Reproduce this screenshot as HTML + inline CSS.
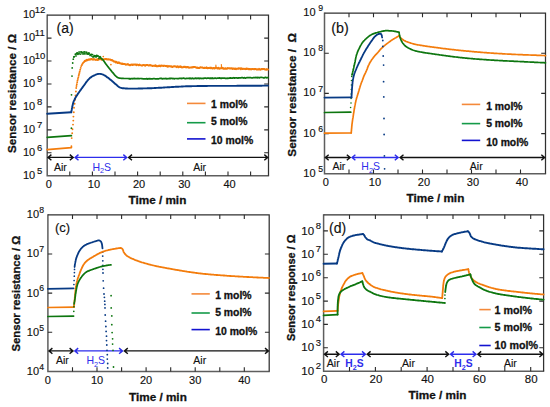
<!DOCTYPE html>
<html><head><meta charset="utf-8"><style>
html,body{margin:0;padding:0;background:#fff;}
body{width:550px;height:407px;position:relative;overflow:hidden;}
</style></head><body>
<svg width="550" height="407" viewBox="0 0 550 407" style="position:absolute;left:0;top:0">
<g font-family='"Liberation Sans", sans-serif'>
<path d="M47.20,14.50 V175.80 H269.10" fill="none" stroke="#5e5e5e" stroke-width="1.5"/>
<path d="M47.20,15.10 H268.50 V175.80" fill="none" stroke="#303030" stroke-width="1.25"/>
<path d="M47.2,152.8h4.3 M268.5,152.8h-4.3 M47.2,129.9h4.3 M268.5,129.9h-4.3 M47.2,106.9h4.3 M268.5,106.9h-4.3 M47.2,84.0h4.3 M268.5,84.0h-4.3 M47.2,61.0h4.3 M268.5,61.0h-4.3 M47.2,38.1h4.3 M268.5,38.1h-4.3 M69.8,175.8v-4.3 M69.8,15.1v4.3 M92.4,175.8v-4.3 M92.4,15.1v4.3 M115.0,175.8v-4.3 M115.0,15.1v4.3 M137.6,175.8v-4.3 M137.6,15.1v4.3 M160.2,175.8v-4.3 M160.2,15.1v4.3 M182.8,175.8v-4.3 M182.8,15.1v4.3 M205.4,175.8v-4.3 M205.4,15.1v4.3 M228.0,175.8v-4.3 M228.0,15.1v4.3 M250.6,175.8v-4.3 M250.6,15.1v4.3 " stroke="#2a2a2a" stroke-width="1.1" fill="none"/>
<text x="22.9" y="179.0" font-size="11" font-weight="normal" text-anchor="start" fill="#111" stroke="#111" stroke-width="0.15" >10</text>
<text x="37.0" y="173.6" font-size="9.5" font-weight="normal" text-anchor="start" fill="#111" stroke="#111" stroke-width="0.15" >5</text>
<text x="22.9" y="156.0" font-size="11" font-weight="normal" text-anchor="start" fill="#111" stroke="#111" stroke-width="0.15" >10</text>
<text x="37.0" y="150.6" font-size="9.5" font-weight="normal" text-anchor="start" fill="#111" stroke="#111" stroke-width="0.15" >6</text>
<text x="22.9" y="133.1" font-size="11" font-weight="normal" text-anchor="start" fill="#111" stroke="#111" stroke-width="0.15" >10</text>
<text x="37.0" y="127.7" font-size="9.5" font-weight="normal" text-anchor="start" fill="#111" stroke="#111" stroke-width="0.15" >7</text>
<text x="22.9" y="110.1" font-size="11" font-weight="normal" text-anchor="start" fill="#111" stroke="#111" stroke-width="0.15" >10</text>
<text x="37.0" y="104.7" font-size="9.5" font-weight="normal" text-anchor="start" fill="#111" stroke="#111" stroke-width="0.15" >8</text>
<text x="22.9" y="87.2" font-size="11" font-weight="normal" text-anchor="start" fill="#111" stroke="#111" stroke-width="0.15" >10</text>
<text x="37.0" y="81.8" font-size="9.5" font-weight="normal" text-anchor="start" fill="#111" stroke="#111" stroke-width="0.15" >9</text>
<text x="22.9" y="64.2" font-size="11" font-weight="normal" text-anchor="start" fill="#111" stroke="#111" stroke-width="0.15" >10</text>
<text x="34.8" y="58.8" font-size="9.5" font-weight="normal" text-anchor="start" fill="#111" stroke="#111" stroke-width="0.15" >10</text>
<text x="22.9" y="41.3" font-size="11" font-weight="normal" text-anchor="start" fill="#111" stroke="#111" stroke-width="0.15" >10</text>
<text x="34.8" y="35.9" font-size="9.5" font-weight="normal" text-anchor="start" fill="#111" stroke="#111" stroke-width="0.15" >11</text>
<text x="22.9" y="18.3" font-size="11" font-weight="normal" text-anchor="start" fill="#111" stroke="#111" stroke-width="0.15" >10</text>
<text x="34.8" y="12.9" font-size="9.5" font-weight="normal" text-anchor="start" fill="#111" stroke="#111" stroke-width="0.15" >12</text>
<text x="48.7" y="188.0" font-size="11" font-weight="normal" text-anchor="middle" fill="#111" stroke="#111" stroke-width="0.15" >0</text>
<text x="93.9" y="188.0" font-size="11" font-weight="normal" text-anchor="middle" fill="#111" stroke="#111" stroke-width="0.15" >10</text>
<text x="139.1" y="188.0" font-size="11" font-weight="normal" text-anchor="middle" fill="#111" stroke="#111" stroke-width="0.15" >20</text>
<text x="184.3" y="188.0" font-size="11" font-weight="normal" text-anchor="middle" fill="#111" stroke="#111" stroke-width="0.15" >30</text>
<text x="229.5" y="188.0" font-size="11" font-weight="normal" text-anchor="middle" fill="#111" stroke="#111" stroke-width="0.15" >40</text>
<text x="157.4" y="204.4" font-size="11.5" font-weight="bold" text-anchor="middle" fill="#111" stroke="#111" stroke-width="0.3" textLength="57.8" lengthAdjust="spacingAndGlyphs">Time / min</text>
<text x="0.0" y="0.0" font-size="11.5" font-weight="bold" text-anchor="middle" fill="#111" stroke="#111" stroke-width="0.3" transform="translate(16.2,93.5) rotate(-90)" textLength="119" lengthAdjust="spacingAndGlyphs">Sensor resistance / Ω</text>
<text x="56.5" y="32.8" font-size="14" font-weight="normal" text-anchor="start" fill="#111" stroke="#111" stroke-width="0.15" >(a)</text>
<path d="M324.50,12.40 V173.80 H546.10" fill="none" stroke="#5e5e5e" stroke-width="1.5"/>
<path d="M324.50,13.00 H545.50 V173.80" fill="none" stroke="#303030" stroke-width="1.25"/>
<path d="M324.5,133.6h4.3 M545.5,133.6h-4.3 M324.5,93.4h4.3 M545.5,93.4h-4.3 M324.5,53.2h4.3 M545.5,53.2h-4.3 M349.0,173.8v-4.3 M349.0,13.0v4.3 M373.5,173.8v-4.3 M373.5,13.0v4.3 M398.0,173.8v-4.3 M398.0,13.0v4.3 M422.5,173.8v-4.3 M422.5,13.0v4.3 M447.0,173.8v-4.3 M447.0,13.0v4.3 M471.5,173.8v-4.3 M471.5,13.0v4.3 M496.0,173.8v-4.3 M496.0,13.0v4.3 M520.5,173.8v-4.3 M520.5,13.0v4.3 " stroke="#2a2a2a" stroke-width="1.1" fill="none"/>
<text x="303.3" y="176.7" font-size="11" font-weight="normal" text-anchor="start" fill="#111" stroke="#111" stroke-width="0.15" >10</text>
<text x="318.2" y="171.9" font-size="8.7" font-weight="normal" text-anchor="start" fill="#111" stroke="#111" stroke-width="0.15" >5</text>
<text x="303.3" y="136.5" font-size="11" font-weight="normal" text-anchor="start" fill="#111" stroke="#111" stroke-width="0.15" >10</text>
<text x="318.2" y="131.7" font-size="8.7" font-weight="normal" text-anchor="start" fill="#111" stroke="#111" stroke-width="0.15" >6</text>
<text x="303.3" y="96.3" font-size="11" font-weight="normal" text-anchor="start" fill="#111" stroke="#111" stroke-width="0.15" >10</text>
<text x="318.2" y="91.5" font-size="8.7" font-weight="normal" text-anchor="start" fill="#111" stroke="#111" stroke-width="0.15" >7</text>
<text x="303.3" y="56.1" font-size="11" font-weight="normal" text-anchor="start" fill="#111" stroke="#111" stroke-width="0.15" >10</text>
<text x="318.2" y="51.3" font-size="8.7" font-weight="normal" text-anchor="start" fill="#111" stroke="#111" stroke-width="0.15" >8</text>
<text x="303.3" y="15.9" font-size="11" font-weight="normal" text-anchor="start" fill="#111" stroke="#111" stroke-width="0.15" >10</text>
<text x="318.2" y="11.1" font-size="8.7" font-weight="normal" text-anchor="start" fill="#111" stroke="#111" stroke-width="0.15" >9</text>
<text x="325.9" y="185.9" font-size="11" font-weight="normal" text-anchor="middle" fill="#111" stroke="#111" stroke-width="0.15" >0</text>
<text x="374.9" y="185.9" font-size="11" font-weight="normal" text-anchor="middle" fill="#111" stroke="#111" stroke-width="0.15" >10</text>
<text x="423.9" y="185.9" font-size="11" font-weight="normal" text-anchor="middle" fill="#111" stroke="#111" stroke-width="0.15" >20</text>
<text x="472.9" y="185.9" font-size="11" font-weight="normal" text-anchor="middle" fill="#111" stroke="#111" stroke-width="0.15" >30</text>
<text x="521.9" y="185.9" font-size="11" font-weight="normal" text-anchor="middle" fill="#111" stroke="#111" stroke-width="0.15" >40</text>
<text x="435.4" y="201.8" font-size="11.5" font-weight="bold" text-anchor="middle" fill="#111" stroke="#111" stroke-width="0.3" textLength="57.8" lengthAdjust="spacingAndGlyphs">Time / min</text>
<text x="0.0" y="0.0" font-size="11.5" font-weight="bold" text-anchor="middle" fill="#111" stroke="#111" stroke-width="0.3" transform="translate(296.0,94.9) rotate(-90)" textLength="123.5" lengthAdjust="spacingAndGlyphs">Sensor resistance /&#160;&#160;Ω</text>
<text x="331.3" y="32.6" font-size="14.3" font-weight="normal" text-anchor="start" fill="#111" stroke="#111" stroke-width="0.15" >(b)</text>
<path d="M47.90,214.20 V371.50 H269.80" fill="none" stroke="#5e5e5e" stroke-width="1.5"/>
<path d="M47.90,214.80 H269.20 V371.50" fill="none" stroke="#303030" stroke-width="1.25"/>
<path d="M47.9,332.3h4.3 M269.2,332.3h-4.3 M47.9,293.1h4.3 M269.2,293.1h-4.3 M47.9,254.0h4.3 M269.2,254.0h-4.3 M72.5,371.5v-4.3 M72.5,214.8v4.3 M97.0,371.5v-4.3 M97.0,214.8v4.3 M121.6,371.5v-4.3 M121.6,214.8v4.3 M146.1,371.5v-4.3 M146.1,214.8v4.3 M170.7,371.5v-4.3 M170.7,214.8v4.3 M195.2,371.5v-4.3 M195.2,214.8v4.3 M219.8,371.5v-4.3 M219.8,214.8v4.3 M244.3,371.5v-4.3 M244.3,214.8v4.3 " stroke="#2a2a2a" stroke-width="1.1" fill="none"/>
<text x="26.8" y="374.9" font-size="11" font-weight="normal" text-anchor="start" fill="#111" stroke="#111" stroke-width="0.15" >10</text>
<text x="39.2" y="369.8" font-size="8.7" font-weight="normal" text-anchor="start" fill="#111" stroke="#111" stroke-width="0.15" >4</text>
<text x="26.8" y="335.7" font-size="11" font-weight="normal" text-anchor="start" fill="#111" stroke="#111" stroke-width="0.15" >10</text>
<text x="39.2" y="330.6" font-size="8.7" font-weight="normal" text-anchor="start" fill="#111" stroke="#111" stroke-width="0.15" >5</text>
<text x="26.8" y="296.5" font-size="11" font-weight="normal" text-anchor="start" fill="#111" stroke="#111" stroke-width="0.15" >10</text>
<text x="39.2" y="291.4" font-size="8.7" font-weight="normal" text-anchor="start" fill="#111" stroke="#111" stroke-width="0.15" >6</text>
<text x="26.8" y="257.4" font-size="11" font-weight="normal" text-anchor="start" fill="#111" stroke="#111" stroke-width="0.15" >10</text>
<text x="39.2" y="252.3" font-size="8.7" font-weight="normal" text-anchor="start" fill="#111" stroke="#111" stroke-width="0.15" >7</text>
<text x="26.8" y="218.2" font-size="11" font-weight="normal" text-anchor="start" fill="#111" stroke="#111" stroke-width="0.15" >10</text>
<text x="39.2" y="213.1" font-size="8.7" font-weight="normal" text-anchor="start" fill="#111" stroke="#111" stroke-width="0.15" >8</text>
<text x="47.9" y="383.7" font-size="11" font-weight="normal" text-anchor="middle" fill="#111" stroke="#111" stroke-width="0.15" >0</text>
<text x="97.0" y="383.7" font-size="11" font-weight="normal" text-anchor="middle" fill="#111" stroke="#111" stroke-width="0.15" >10</text>
<text x="146.1" y="383.7" font-size="11" font-weight="normal" text-anchor="middle" fill="#111" stroke="#111" stroke-width="0.15" >20</text>
<text x="195.2" y="383.7" font-size="11" font-weight="normal" text-anchor="middle" fill="#111" stroke="#111" stroke-width="0.15" >30</text>
<text x="244.3" y="383.7" font-size="11" font-weight="normal" text-anchor="middle" fill="#111" stroke="#111" stroke-width="0.15" >40</text>
<text x="157.9" y="400.7" font-size="11.5" font-weight="bold" text-anchor="middle" fill="#111" stroke="#111" stroke-width="0.3" textLength="57.8" lengthAdjust="spacingAndGlyphs">Time / min</text>
<text x="0.0" y="0.0" font-size="11.5" font-weight="bold" text-anchor="middle" fill="#111" stroke="#111" stroke-width="0.3" transform="translate(19.5,293.6) rotate(-90)" textLength="116" lengthAdjust="spacingAndGlyphs">Sensor resistance / Ω</text>
<text x="55.0" y="231.9" font-size="13" font-weight="normal" text-anchor="start" fill="#111" stroke="#111" stroke-width="0.15" >(c)</text>
<path d="M323.60,214.20 V371.20 H544.20" fill="none" stroke="#5e5e5e" stroke-width="1.5"/>
<path d="M323.60,214.80 H543.60 V371.20" fill="none" stroke="#303030" stroke-width="1.25"/>
<path d="M323.6,347.8h4.3 M543.6,347.8h-4.3 M323.6,324.4h4.3 M543.6,324.4h-4.3 M323.6,301.1h4.3 M543.6,301.1h-4.3 M323.6,277.7h4.3 M543.6,277.7h-4.3 M323.6,254.3h4.3 M543.6,254.3h-4.3 M323.6,230.9h4.3 M543.6,230.9h-4.3 M349.5,371.2v-4.3 M349.5,214.8v4.3 M375.4,371.2v-4.3 M375.4,214.8v4.3 M401.2,371.2v-4.3 M401.2,214.8v4.3 M427.1,371.2v-4.3 M427.1,214.8v4.3 M453.0,371.2v-4.3 M453.0,214.8v4.3 M478.9,371.2v-4.3 M478.9,214.8v4.3 M504.8,371.2v-4.3 M504.8,214.8v4.3 M530.7,371.2v-4.3 M530.7,214.8v4.3 " stroke="#2a2a2a" stroke-width="1.1" fill="none"/>
<text x="301.3" y="374.8" font-size="11.5" font-weight="normal" text-anchor="start" fill="#111" stroke="#111" stroke-width="0.15" >10</text>
<text x="315.8" y="369.2" font-size="9.5" font-weight="normal" text-anchor="start" fill="#111" stroke="#111" stroke-width="0.15" >2</text>
<text x="301.3" y="351.4" font-size="11.5" font-weight="normal" text-anchor="start" fill="#111" stroke="#111" stroke-width="0.15" >10</text>
<text x="315.8" y="345.8" font-size="9.5" font-weight="normal" text-anchor="start" fill="#111" stroke="#111" stroke-width="0.15" >3</text>
<text x="301.3" y="328.0" font-size="11.5" font-weight="normal" text-anchor="start" fill="#111" stroke="#111" stroke-width="0.15" >10</text>
<text x="315.8" y="322.4" font-size="9.5" font-weight="normal" text-anchor="start" fill="#111" stroke="#111" stroke-width="0.15" >4</text>
<text x="301.3" y="304.7" font-size="11.5" font-weight="normal" text-anchor="start" fill="#111" stroke="#111" stroke-width="0.15" >10</text>
<text x="315.8" y="299.1" font-size="9.5" font-weight="normal" text-anchor="start" fill="#111" stroke="#111" stroke-width="0.15" >5</text>
<text x="301.3" y="281.3" font-size="11.5" font-weight="normal" text-anchor="start" fill="#111" stroke="#111" stroke-width="0.15" >10</text>
<text x="315.8" y="275.7" font-size="9.5" font-weight="normal" text-anchor="start" fill="#111" stroke="#111" stroke-width="0.15" >6</text>
<text x="301.3" y="257.9" font-size="11.5" font-weight="normal" text-anchor="start" fill="#111" stroke="#111" stroke-width="0.15" >10</text>
<text x="315.8" y="252.3" font-size="9.5" font-weight="normal" text-anchor="start" fill="#111" stroke="#111" stroke-width="0.15" >7</text>
<text x="301.3" y="234.5" font-size="11.5" font-weight="normal" text-anchor="start" fill="#111" stroke="#111" stroke-width="0.15" >10</text>
<text x="315.8" y="228.9" font-size="9.5" font-weight="normal" text-anchor="start" fill="#111" stroke="#111" stroke-width="0.15" >8</text>
<text x="324.1" y="383.3" font-size="11.5" font-weight="normal" text-anchor="middle" fill="#111" stroke="#111" stroke-width="0.15" >0</text>
<text x="375.9" y="383.3" font-size="11.5" font-weight="normal" text-anchor="middle" fill="#111" stroke="#111" stroke-width="0.15" >20</text>
<text x="427.6" y="383.3" font-size="11.5" font-weight="normal" text-anchor="middle" fill="#111" stroke="#111" stroke-width="0.15" >40</text>
<text x="479.4" y="383.3" font-size="11.5" font-weight="normal" text-anchor="middle" fill="#111" stroke="#111" stroke-width="0.15" >60</text>
<text x="531.2" y="383.3" font-size="11.5" font-weight="normal" text-anchor="middle" fill="#111" stroke="#111" stroke-width="0.15" >80</text>
<text x="437.5" y="398.8" font-size="11.5" font-weight="bold" text-anchor="middle" fill="#111" stroke="#111" stroke-width="0.3" textLength="57.8" lengthAdjust="spacingAndGlyphs">Time / min</text>
<text x="0.0" y="0.0" font-size="11.5" font-weight="bold" text-anchor="middle" fill="#111" stroke="#111" stroke-width="0.3" transform="translate(294.6,287.8) rotate(-90)" textLength="106.5" lengthAdjust="spacingAndGlyphs">Sensor response / Ω</text>
<text x="329.0" y="232.8" font-size="14" font-weight="normal" text-anchor="start" fill="#111" stroke="#111" stroke-width="0.15" >(d)</text>
<path d="M48.0,157.4 H73.2 M51.4,154.6 L48.0,157.4 L51.4,160.2 M69.8,154.6 L73.2,157.4 L69.8,160.2" stroke="#111" stroke-width="1.4" fill="none"/>
<path d="M75.1,157.4 H126.7 M78.5,154.6 L75.1,157.4 L78.5,160.2 M123.3,154.6 L126.7,157.4 L123.3,160.2" stroke="#2D2DEB" stroke-width="1.4" fill="none"/>
<path d="M128.6,157.4 H267.7 M132.0,154.6 L128.6,157.4 L132.0,160.2 M264.3,154.6 L267.7,157.4 L264.3,160.2" stroke="#111" stroke-width="1.4" fill="none"/>
<text x="54.0" y="170.6" font-size="10.5" font-weight="normal" text-anchor="start" fill="#111" stroke="#111" stroke-width="0.15" >Air</text>
<text x="92.4" y="170.6" font-size="10.5" font-weight="normal" fill="#2D2DEB">H<tspan font-size="7.3" dy="2.5">2</tspan><tspan dy="-2.5">S</tspan></text>
<text x="193.2" y="170.6" font-size="10.5" font-weight="normal" text-anchor="start" fill="#111" stroke="#111" stroke-width="0.15" >Air</text>
<path d="M325.3,157.5 H350.2 M328.7,154.7 L325.3,157.5 L328.7,160.3 M346.8,154.7 L350.2,157.5 L346.8,160.3" stroke="#111" stroke-width="1.4" fill="none"/>
<path d="M352.0,157.5 H398.2 M355.4,154.7 L352.0,157.5 L355.4,160.3 M394.8,154.7 L398.2,157.5 L394.8,160.3" stroke="#2D2DEB" stroke-width="1.4" fill="none"/>
<path d="M400.1,157.5 H544.7 M403.5,154.7 L400.1,157.5 L403.5,160.3 M541.3,154.7 L544.7,157.5 L541.3,160.3" stroke="#111" stroke-width="1.4" fill="none"/>
<text x="332.5" y="170.4" font-size="10.5" font-weight="normal" text-anchor="start" fill="#111" stroke="#111" stroke-width="0.15" >Air</text>
<text x="361.3" y="170.4" font-size="10.5" font-weight="normal" fill="#2D2DEB">H<tspan font-size="7.3" dy="2.5">2</tspan><tspan dy="-2.5">S</tspan></text>
<text x="469.8" y="170.4" font-size="10.5" font-weight="normal" text-anchor="start" fill="#111" stroke="#111" stroke-width="0.15" >Air</text>
<path d="M49.0,350.9 H73.0 M52.4,348.1 L49.0,350.9 L52.4,353.7 M69.6,348.1 L73.0,350.9 L69.6,353.7" stroke="#111" stroke-width="1.4" fill="none"/>
<path d="M74.8,350.9 H122.5 M78.2,348.1 L74.8,350.9 L78.2,353.7 M119.1,348.1 L122.5,350.9 L119.1,353.7" stroke="#2D2DEB" stroke-width="1.4" fill="none"/>
<path d="M124.4,350.9 H268.4 M127.8,348.1 L124.4,350.9 L127.8,353.7 M265.0,348.1 L268.4,350.9 L265.0,353.7" stroke="#111" stroke-width="1.4" fill="none"/>
<text x="55.9" y="364.3" font-size="10.5" font-weight="normal" text-anchor="start" fill="#111" stroke="#111" stroke-width="0.15" >Air</text>
<text x="86.4" y="364.3" font-size="10.5" font-weight="normal" fill="#2D2DEB">H<tspan font-size="7.3" dy="2.5">2</tspan><tspan dy="-2.5">S</tspan></text>
<text x="193.3" y="364.3" font-size="10.5" font-weight="normal" text-anchor="start" fill="#111" stroke="#111" stroke-width="0.15" >Air</text>
<path d="M324.5,354.2 H339.2 M327.9,351.4 L324.5,354.2 L327.9,357.0 M335.8,351.4 L339.2,354.2 L335.8,357.0" stroke="#111" stroke-width="1.4" fill="none"/>
<path d="M341.0,354.2 H365.4 M344.4,351.4 L341.0,354.2 L344.4,357.0 M362.0,351.4 L365.4,354.2 L362.0,357.0" stroke="#2D2DEB" stroke-width="1.4" fill="none"/>
<path d="M367.2,354.2 H448.7 M370.6,351.4 L367.2,354.2 L370.6,357.0 M445.3,351.4 L448.7,354.2 L445.3,357.0" stroke="#111" stroke-width="1.4" fill="none"/>
<path d="M450.5,354.2 H476.0 M453.9,351.4 L450.5,354.2 L453.9,357.0 M472.6,351.4 L476.0,354.2 L472.6,357.0" stroke="#2D2DEB" stroke-width="1.4" fill="none"/>
<path d="M477.8,354.2 H542.8 M481.2,351.4 L477.8,354.2 L481.2,357.0 M539.4,351.4 L542.8,354.2 L539.4,357.0" stroke="#111" stroke-width="1.4" fill="none"/>
<text x="326.8" y="367.0" font-size="10.5" font-weight="normal" text-anchor="start" fill="#111" stroke="#111" stroke-width="0.15" >Air</text>
<text x="345.3" y="367.0" font-size="10.3" font-weight="bold" fill="#2D2DEB">H<tspan font-size="7.2" dy="2.5">2</tspan><tspan dy="-2.5">S</tspan></text>
<text x="402.1" y="367.0" font-size="10.5" font-weight="normal" text-anchor="start" fill="#111" stroke="#111" stroke-width="0.15" >Air</text>
<text x="454.2" y="367.0" font-size="10.3" font-weight="bold" fill="#2D2DEB">H<tspan font-size="7.2" dy="2.5">2</tspan><tspan dy="-2.5">S</tspan></text>
<text x="504.0" y="367.0" font-size="10.5" font-weight="normal" text-anchor="start" fill="#111" stroke="#111" stroke-width="0.15" >Air</text>
<line x1="187.0" y1="103.4" x2="205.5" y2="103.4" stroke="#F4893A" stroke-width="1.6"/>
<text x="211.0" y="108.3" font-size="10.4" font-weight="bold" text-anchor="start" fill="#111" stroke="#111" stroke-width="0.3" >1 mol%</text>
<line x1="187.0" y1="122.7" x2="205.5" y2="122.7" stroke="#149A48" stroke-width="1.6"/>
<text x="211.0" y="125.2" font-size="10.4" font-weight="bold" text-anchor="start" fill="#111" stroke="#111" stroke-width="0.3" >5 mol%</text>
<line x1="187.0" y1="138.9" x2="205.5" y2="138.9" stroke="#1212D0" stroke-width="1.6"/>
<text x="211.0" y="144.0" font-size="10.4" font-weight="bold" text-anchor="start" fill="#111" stroke="#111" stroke-width="0.3" >10 mol%</text>
<line x1="461.8" y1="104.4" x2="480.2" y2="104.4" stroke="#F4893A" stroke-width="1.6"/>
<text x="486.2" y="110.0" font-size="10.4" font-weight="bold" text-anchor="start" fill="#111" stroke="#111" stroke-width="0.3" >1 mol%</text>
<line x1="461.8" y1="123.6" x2="480.2" y2="123.6" stroke="#149A48" stroke-width="1.6"/>
<text x="486.2" y="126.7" font-size="10.4" font-weight="bold" text-anchor="start" fill="#111" stroke="#111" stroke-width="0.3" >5 mol%</text>
<line x1="461.8" y1="140.4" x2="480.2" y2="140.4" stroke="#1212D0" stroke-width="1.6"/>
<text x="486.2" y="145.6" font-size="10.4" font-weight="bold" text-anchor="start" fill="#111" stroke="#111" stroke-width="0.3" >10 mol%</text>
<line x1="191.5" y1="293.9" x2="209.8" y2="293.9" stroke="#F4893A" stroke-width="1.6"/>
<text x="215.2" y="298.9" font-size="10.4" font-weight="bold" text-anchor="start" fill="#111" stroke="#111" stroke-width="0.3" >1 mol%</text>
<line x1="191.5" y1="313.0" x2="209.8" y2="313.0" stroke="#149A48" stroke-width="1.6"/>
<text x="215.2" y="315.8" font-size="10.4" font-weight="bold" text-anchor="start" fill="#111" stroke="#111" stroke-width="0.3" >5 mol%</text>
<line x1="191.5" y1="329.6" x2="209.8" y2="329.6" stroke="#1212D0" stroke-width="1.6"/>
<text x="215.2" y="334.6" font-size="10.4" font-weight="bold" text-anchor="start" fill="#111" stroke="#111" stroke-width="0.3" >10 mol%</text>
<line x1="479.3" y1="309.6" x2="490.7" y2="309.6" stroke="#F4893A" stroke-width="1.6"/>
<text x="494.6" y="313.6" font-size="10.7" font-weight="bold" text-anchor="start" fill="#111" stroke="#111" stroke-width="0.3" >1 mol%</text>
<line x1="479.3" y1="327.5" x2="490.7" y2="327.5" stroke="#149A48" stroke-width="1.6"/>
<text x="494.6" y="331.2" font-size="10.7" font-weight="bold" text-anchor="start" fill="#111" stroke="#111" stroke-width="0.3" >5 mol%</text>
<line x1="479.3" y1="345.5" x2="490.7" y2="345.5" stroke="#1212D0" stroke-width="1.6"/>
<text x="494.6" y="349.0" font-size="10.7" font-weight="bold" text-anchor="start" fill="#111" stroke="#111" stroke-width="0.3" >10 mol%</text>
<path d="M47.2,149.6 L71.4,147.7 L71.4,146.1" fill="none" stroke="#F37C0C" stroke-width="1.7" stroke-linejoin="round" stroke-linecap="round"/>
<circle cx="71.7" cy="138.1" r="0.95" fill="#F37C0C"/>
<circle cx="72.2" cy="133.3" r="0.95" fill="#F37C0C"/>
<circle cx="72.5" cy="129.3" r="0.95" fill="#F37C0C"/>
<circle cx="73.0" cy="124.6" r="0.95" fill="#F37C0C"/>
<circle cx="73.3" cy="120.6" r="0.95" fill="#F37C0C"/>
<circle cx="73.4" cy="116.6" r="0.95" fill="#F37C0C"/>
<circle cx="73.8" cy="112.3" r="0.95" fill="#F37C0C"/>
<circle cx="74.0" cy="107.8" r="0.95" fill="#F37C0C"/>
<circle cx="74.6" cy="103.8" r="0.95" fill="#F37C0C"/>
<circle cx="75.1" cy="99.8" r="0.95" fill="#F37C0C"/>
<circle cx="75.5" cy="95.5" r="0.95" fill="#F37C0C"/>
<circle cx="75.9" cy="91.5" r="0.95" fill="#F37C0C"/>
<circle cx="76.2" cy="88.0" r="0.95" fill="#F37C0C"/>
<circle cx="76.5" cy="86.0" r="0.95" fill="#F37C0C"/>
<circle cx="76.8" cy="84.3" r="0.95" fill="#F37C0C"/>
<circle cx="77.2" cy="82.3" r="0.95" fill="#F37C0C"/>
<circle cx="77.5" cy="80.5" r="0.95" fill="#F37C0C"/>
<circle cx="77.9" cy="78.9" r="0.95" fill="#F37C0C"/>
<circle cx="78.3" cy="77.4" r="0.95" fill="#F37C0C"/>
<circle cx="78.7" cy="75.8" r="0.95" fill="#F37C0C"/>
<circle cx="79.0" cy="74.3" r="0.95" fill="#F37C0C"/>
<circle cx="79.4" cy="72.9" r="0.95" fill="#F37C0C"/>
<circle cx="79.7" cy="71.5" r="0.95" fill="#F37C0C"/>
<circle cx="80.2" cy="69.7" r="0.95" fill="#F37C0C"/>
<circle cx="80.7" cy="67.9" r="0.95" fill="#F37C0C"/>
<circle cx="81.2" cy="66.1" r="0.95" fill="#F37C0C"/>
<circle cx="81.9" cy="65.0" r="0.95" fill="#F37C0C"/>
<circle cx="82.5" cy="63.8" r="0.95" fill="#F37C0C"/>
<circle cx="83.2" cy="62.7" r="0.95" fill="#F37C0C"/>
<circle cx="84.0" cy="62.0" r="0.95" fill="#F37C0C"/>
<circle cx="84.8" cy="61.3" r="0.95" fill="#F37C0C"/>
<path d="M84.8,61.1 L85.6,60.4 L86.2,60.7 L86.8,59.9 L87.4,60.2 L88.0,59.8 L88.6,59.4 L89.2,59.7 L89.9,59.2 L90.5,59.5 L91.2,59.0 L91.8,59.0 L92.4,59.3 L93.0,59.7 L93.6,59.1 L94.2,59.2 L94.9,59.6 L95.5,59.9 L96.1,59.6 L96.7,59.4 L97.3,60.0 L97.9,59.0 L98.5,59.8 L99.1,59.3 L99.7,59.1 L100.3,59.1 L100.9,59.2 L101.5,59.7 L102.1,59.1 L102.7,59.5 L103.3,59.5 L103.9,59.3 L104.5,59.4 L105.1,59.0 L105.8,59.0 L106.4,59.1 L107.0,59.6 L107.6,59.3 L108.2,59.2 L108.9,59.6 L109.6,59.5 L110.2,59.4 L110.9,60.0 L111.4,60.2 L112.0,60.0 L112.5,60.6 L113.1,60.8 L113.6,61.5 L114.3,61.6 L114.9,61.4 L115.6,62.4 L116.2,61.8 L116.9,62.4 L117.5,62.9 L118.2,62.4 L118.8,62.9 L119.4,62.6 L120.0,63.4 L120.7,63.6 L121.3,63.6 L121.9,64.0 L122.5,63.5 L123.1,64.0 L123.7,64.0 L124.3,64.1 L124.9,64.1 L125.5,64.5 L126.1,64.7 L126.7,64.4 L127.4,64.6 L128.0,64.1 L128.7,64.8 L129.3,64.9 L130.0,65.3 L130.6,65.1 L131.2,64.6 L131.9,64.7 L132.5,65.0 L133.1,64.4 L133.8,64.8 L134.4,64.6 L135.0,64.5 L135.6,64.5 L136.2,65.2 L136.9,64.6 L137.5,64.7 L138.1,64.9 L138.8,65.3 L139.4,64.6 L140.0,64.9 L140.6,65.1 L141.2,65.4 L141.8,65.4 L142.4,65.5 L143.0,64.9 L143.6,65.1 L144.2,65.1 L144.8,65.6 L145.4,65.7 L146.0,65.0 L146.6,65.0 L147.2,65.1 L147.8,65.1 L148.4,65.4 L149.0,65.5 L149.6,65.2 L150.2,65.0 L150.8,65.5 L151.4,65.4 L152.0,65.7 L152.6,66.1 L153.2,65.9 L153.8,65.7 L154.4,65.8 L155.0,65.9 L155.6,65.3 L156.2,66.2 L156.8,66.1 L157.4,66.2 L158.0,66.2 L158.6,65.8 L159.2,65.9 L159.8,65.6 L160.4,66.2 L161.0,65.6 L161.6,65.6 L162.2,65.8 L162.8,65.8 L163.4,66.0 L164.0,65.8 L164.6,65.7 L165.2,65.9 L165.8,65.9 L166.4,66.2 L167.0,65.9 L167.6,66.8 L168.2,66.5 L168.8,66.1 L169.4,66.2 L170.0,66.3 L170.6,66.4 L171.2,66.2 L171.8,66.9 L172.4,67.1 L173.0,66.6 L173.6,66.6 L174.2,66.2 L174.8,66.3 L175.4,66.5 L176.0,66.5 L176.6,67.1 L177.2,66.4 L177.8,66.3 L178.4,67.3 L179.0,66.9 L179.6,66.5 L180.2,66.9 L180.8,66.4 L181.4,66.9 L182.0,67.4 L182.6,67.3 L183.2,67.2 L183.8,66.8 L184.4,66.9 L185.0,66.7 L185.6,67.3 L186.2,67.1 L186.8,67.4 L187.4,67.0 L188.0,66.9 L188.6,67.5 L189.2,67.7 L189.8,67.6 L190.4,67.6 L191.0,67.6 L191.6,67.5 L192.2,67.0 L192.8,67.4 L193.4,67.2 L194.0,66.9 L194.6,66.9 L195.2,67.2 L195.8,67.2 L196.4,67.7 L197.0,67.9 L197.6,67.5 L198.2,68.0 L198.8,68.0 L199.4,68.0 L200.0,67.5 L200.6,67.3 L201.2,67.4 L201.8,67.4 L202.4,67.4 L203.0,67.8 L203.6,68.1 L204.2,68.1 L204.8,67.7 L205.4,67.9 L206.0,68.1 L206.6,67.4 L207.2,68.0 L207.8,68.2 L208.4,68.1 L209.0,68.1 L209.6,67.9 L210.2,67.6 L210.8,68.2 L211.4,67.8 L212.0,68.3 L212.6,68.4 L213.2,67.9 L213.8,67.9 L214.4,68.5 L215.0,68.3 L215.6,67.7 L216.2,67.7 L216.8,67.8 L217.4,68.5 L218.0,68.4 L218.6,67.8 L219.2,68.5 L219.8,68.7 L220.4,68.4 L221.0,68.1 L221.6,68.3 L222.2,67.9 L222.8,67.8 L223.4,68.8 L224.0,68.5 L224.6,68.4 L225.2,68.8 L225.8,68.3 L226.4,68.8 L227.0,68.7 L227.6,68.1 L228.2,68.2 L228.8,68.3 L229.4,68.2 L230.0,68.6 L230.6,68.3 L231.2,68.4 L231.8,68.2 L232.4,69.0 L233.0,68.4 L233.6,68.5 L234.2,68.7 L234.8,69.0 L235.4,68.5 L236.0,69.1 L236.6,68.7 L237.2,68.7 L237.8,68.7 L238.4,68.2 L239.0,68.7 L239.7,68.4 L240.3,68.2 L240.9,69.1 L241.5,68.4 L242.1,68.8 L242.7,69.0 L243.3,68.9 L243.9,68.7 L244.5,68.9 L245.1,68.9 L245.7,69.2 L246.3,68.5 L246.9,69.0 L247.5,68.7 L248.1,68.7 L248.7,69.2 L249.3,69.0 L249.9,69.0 L250.5,69.2 L251.1,69.4 L251.7,69.0 L252.3,69.1 L252.9,69.0 L253.5,69.1 L254.1,69.3 L254.7,69.0 L255.3,69.1 L255.9,69.1 L256.5,69.6 L257.1,69.3 L257.7,69.5 L258.3,69.6 L259.0,68.9 L259.6,69.3 L260.2,69.7 L260.8,69.6 L261.4,68.9 L262.0,68.9 L262.6,69.2 L263.2,68.9 L263.8,69.0 L264.4,68.9 L265.0,69.5 L265.6,69.6 L266.2,69.8 L266.8,69.0 L267.4,69.6 L268.0,69.6" fill="none" stroke="#F37C0C" stroke-width="2.0" stroke-linejoin="round" stroke-linecap="round"/>
<circle cx="103.3" cy="56.5" r="0.85" fill="#F37C0C"/>
<circle cx="110.9" cy="64.6" r="0.85" fill="#F37C0C"/>
<path d="M215.9,67.6 L215.9,65.0" fill="none" stroke="#F37C0C" stroke-width="1.1" stroke-linejoin="round" stroke-linecap="round"/>
<path d="M221.4,67.8 L221.4,64.6" fill="none" stroke="#F37C0C" stroke-width="1.1" stroke-linejoin="round" stroke-linecap="round"/>
<path d="M47.2,137.3 L71.4,135.7" fill="none" stroke="#0D760F" stroke-width="1.7" stroke-linejoin="round" stroke-linecap="round"/>
<circle cx="71.4" cy="128.2" r="0.9" fill="#0D760F"/>
<circle cx="71.5" cy="94.8" r="0.9" fill="#0D760F"/>
<circle cx="72.0" cy="76.1" r="0.9" fill="#0D760F"/>
<circle cx="72.2" cy="67.9" r="0.9" fill="#0D760F"/>
<circle cx="72.7" cy="63.0" r="0.9" fill="#0D760F"/>
<circle cx="73.3" cy="59.2" r="0.9" fill="#0D760F"/>
<circle cx="73.8" cy="57.0" r="0.9" fill="#0D760F"/>
<circle cx="74.4" cy="56.6" r="0.85" fill="#0D760F"/>
<circle cx="75.3" cy="54.2" r="0.85" fill="#0D760F"/>
<circle cx="75.8" cy="54.3" r="0.85" fill="#0D760F"/>
<circle cx="76.0" cy="55.9" r="0.85" fill="#0D760F"/>
<circle cx="76.7" cy="53.2" r="0.85" fill="#0D760F"/>
<circle cx="77.0" cy="54.0" r="0.85" fill="#0D760F"/>
<circle cx="77.4" cy="52.9" r="0.85" fill="#0D760F"/>
<circle cx="77.9" cy="54.3" r="0.85" fill="#0D760F"/>
<circle cx="78.2" cy="53.7" r="0.85" fill="#0D760F"/>
<circle cx="78.9" cy="52.0" r="0.85" fill="#0D760F"/>
<circle cx="79.3" cy="53.8" r="0.85" fill="#0D760F"/>
<circle cx="79.9" cy="52.0" r="0.85" fill="#0D760F"/>
<circle cx="80.7" cy="54.1" r="0.85" fill="#0D760F"/>
<circle cx="81.2" cy="52.0" r="0.85" fill="#0D760F"/>
<circle cx="81.2" cy="51.8" r="0.85" fill="#0D760F"/>
<circle cx="82.0" cy="52.5" r="0.85" fill="#0D760F"/>
<circle cx="82.1" cy="52.9" r="0.85" fill="#0D760F"/>
<circle cx="83.0" cy="54.1" r="0.85" fill="#0D760F"/>
<circle cx="83.1" cy="52.1" r="0.85" fill="#0D760F"/>
<circle cx="84.0" cy="53.3" r="0.85" fill="#0D760F"/>
<circle cx="84.3" cy="51.9" r="0.85" fill="#0D760F"/>
<circle cx="84.4" cy="53.8" r="0.85" fill="#0D760F"/>
<circle cx="85.1" cy="52.0" r="0.85" fill="#0D760F"/>
<circle cx="85.9" cy="53.8" r="0.85" fill="#0D760F"/>
<circle cx="86.3" cy="52.3" r="0.85" fill="#0D760F"/>
<circle cx="86.8" cy="52.3" r="0.85" fill="#0D760F"/>
<circle cx="87.2" cy="53.6" r="0.85" fill="#0D760F"/>
<circle cx="87.4" cy="54.0" r="0.85" fill="#0D760F"/>
<circle cx="88.2" cy="53.3" r="0.85" fill="#0D760F"/>
<circle cx="88.2" cy="54.2" r="0.85" fill="#0D760F"/>
<circle cx="88.7" cy="53.1" r="0.85" fill="#0D760F"/>
<circle cx="89.1" cy="53.1" r="0.85" fill="#0D760F"/>
<circle cx="89.6" cy="54.0" r="0.85" fill="#0D760F"/>
<circle cx="90.1" cy="55.5" r="0.85" fill="#0D760F"/>
<circle cx="90.6" cy="54.9" r="0.85" fill="#0D760F"/>
<circle cx="91.0" cy="54.6" r="0.85" fill="#0D760F"/>
<circle cx="91.4" cy="54.4" r="0.85" fill="#0D760F"/>
<circle cx="91.8" cy="56.0" r="0.85" fill="#0D760F"/>
<circle cx="92.6" cy="54.5" r="0.85" fill="#0D760F"/>
<circle cx="93.0" cy="56.9" r="0.85" fill="#0D760F"/>
<circle cx="93.3" cy="56.7" r="0.85" fill="#0D760F"/>
<circle cx="94.0" cy="55.9" r="0.85" fill="#0D760F"/>
<circle cx="94.7" cy="55.7" r="0.85" fill="#0D760F"/>
<circle cx="94.9" cy="56.7" r="0.85" fill="#0D760F"/>
<circle cx="95.7" cy="55.8" r="0.85" fill="#0D760F"/>
<circle cx="96.1" cy="57.0" r="0.85" fill="#0D760F"/>
<circle cx="96.4" cy="56.3" r="0.85" fill="#0D760F"/>
<circle cx="96.7" cy="55.3" r="0.85" fill="#0D760F"/>
<circle cx="97.1" cy="55.5" r="0.85" fill="#0D760F"/>
<circle cx="97.9" cy="56.2" r="0.85" fill="#0D760F"/>
<circle cx="98.0" cy="55.9" r="0.85" fill="#0D760F"/>
<circle cx="98.9" cy="58.4" r="0.85" fill="#0D760F"/>
<circle cx="99.2" cy="56.8" r="0.85" fill="#0D760F"/>
<circle cx="99.4" cy="57.0" r="0.85" fill="#0D760F"/>
<circle cx="100.0" cy="56.7" r="0.85" fill="#0D760F"/>
<circle cx="100.5" cy="57.2" r="0.85" fill="#0D760F"/>
<path d="M100.5,57.9 L101.0,58.3 L101.6,58.7 L102.1,59.2 L102.7,59.7 L103.2,60.2 L103.6,60.8 L104.1,61.4 L104.6,62.1 L105.0,62.8 L105.5,63.5 L106.0,64.1 L106.5,64.7 L106.9,65.3 L107.4,66.0 L107.9,66.6 L108.4,67.2 L108.8,67.8 L109.3,68.4 L109.8,69.0 L110.2,69.5 L110.7,70.1 L111.1,70.6 L111.6,71.2 L112.0,71.8 L112.5,72.3 L113.0,72.9 L113.4,73.4 L113.9,74.0 L114.4,74.6 L114.9,75.2 L115.3,75.7 L115.8,76.1 L116.5,76.7 L117.2,77.3 L118.0,77.7 L118.7,77.9 L119.5,78.1 L120.3,78.2 L121.3,78.3 L121.9,78.4 L122.5,78.4 L123.2,78.4 L123.9,78.5 L124.6,78.5 L125.4,78.5 L126.2,78.5 L126.9,78.5 L127.7,78.5 L128.5,78.6 L129.3,78.6 L130.0,78.6" fill="none" stroke="#0D760F" stroke-width="1.7" stroke-linejoin="round" stroke-linecap="round"/>
<path d="M130.0,78.9 L130.6,78.9 L131.2,78.6 L131.8,78.5 L132.4,78.9 L133.0,78.5 L133.6,78.6 L134.2,78.4 L134.8,78.6 L135.4,78.7 L136.0,78.7 L136.6,78.5 L137.2,78.7 L137.8,78.4 L138.4,78.6 L139.0,78.5 L139.6,78.7 L140.2,78.5 L140.8,78.5 L141.4,78.6 L142.0,78.6 L142.6,78.8 L143.2,78.8 L143.8,78.9 L144.4,78.9 L145.0,78.9 L145.6,79.0 L146.2,78.7 L146.8,78.7 L147.4,79.1 L148.0,78.6 L148.6,78.9 L149.2,78.8 L149.8,78.5 L150.4,79.0 L151.0,79.0 L151.6,78.8 L152.2,78.9 L152.8,78.9 L153.4,78.5 L154.1,78.7 L154.7,78.7 L155.3,78.9 L155.9,78.9 L156.5,78.9 L157.1,78.7 L157.7,78.9 L158.3,78.8 L158.9,78.8 L159.5,78.5 L160.1,78.4 L160.7,78.4 L161.3,78.6 L161.9,78.4 L162.5,78.9 L163.1,78.7 L163.7,78.7 L164.3,78.7 L164.9,78.7 L165.5,78.6 L166.1,78.3 L166.7,78.8 L167.3,78.8 L167.9,78.6 L168.5,78.6 L169.1,78.7 L169.7,78.3 L170.3,78.7 L170.9,78.4 L171.6,78.3 L172.2,78.4 L172.8,78.7 L173.4,78.4 L174.0,78.7 L174.6,78.8 L175.2,78.5 L175.8,78.5 L176.4,78.5 L177.0,78.6 L177.6,78.7 L178.2,78.6 L178.8,78.6 L179.4,78.3 L180.0,78.3 L180.6,78.3 L181.2,78.6 L181.8,78.4 L182.4,78.5 L183.0,78.2 L183.6,78.2 L184.2,78.3 L184.8,78.6 L185.5,78.6 L186.1,78.6 L186.7,78.3 L187.3,78.5 L187.9,78.4 L188.5,78.4 L189.1,78.2 L189.7,78.7 L190.3,78.2 L190.9,78.7 L191.5,78.7 L192.1,78.1 L192.7,78.4 L193.3,78.6 L193.9,78.7 L194.5,78.4 L195.2,78.2 L195.8,78.2 L196.4,78.6 L197.0,78.2 L197.6,78.4 L198.2,78.1 L198.8,78.4 L199.4,78.6 L200.0,78.1 L200.6,78.5 L201.2,78.3 L201.8,78.6 L202.4,78.5 L203.0,78.2 L203.6,78.6 L204.2,78.3 L204.8,78.0 L205.5,78.0 L206.1,78.3 L206.7,78.3 L207.3,78.2 L207.9,78.1 L208.5,78.2 L209.1,78.2 L209.7,78.5 L210.3,78.0 L210.9,78.4 L211.5,78.5 L212.1,78.0 L212.7,78.5 L213.3,78.4 L213.9,78.5 L214.5,78.1 L215.2,78.2 L215.8,78.2 L216.4,78.5 L217.0,78.3 L217.6,78.1 L218.2,78.2 L218.8,78.1 L219.4,77.9 L220.0,78.0 L220.6,78.4 L221.2,78.1 L221.8,78.4 L222.4,78.0 L223.0,78.0 L223.6,78.2 L224.2,78.0 L224.8,78.1 L225.4,78.4 L226.0,78.3 L226.6,78.3 L227.2,78.2 L227.8,78.3 L228.4,78.3 L229.0,78.1 L229.6,78.2 L230.2,77.8 L230.8,78.2 L231.4,78.0 L232.0,78.2 L232.6,78.1 L233.2,77.9 L233.8,77.7 L234.4,78.2 L235.0,77.8 L235.6,78.0 L236.2,77.9 L236.8,77.8 L237.4,78.1 L238.0,78.2 L238.6,77.8 L239.2,78.0 L239.8,77.8 L240.4,77.9 L241.0,77.8 L241.6,77.7 L242.2,77.7 L242.8,77.7 L243.4,78.1 L244.0,77.8 L244.6,77.7 L245.2,78.1 L245.8,78.1 L246.4,77.8 L247.0,77.6 L247.6,77.6 L248.2,77.5 L248.8,77.7 L249.4,77.5 L250.0,77.6 L250.6,77.6 L251.2,77.8 L251.8,78.0 L252.4,77.9 L253.0,77.7 L253.6,77.7 L254.2,77.7 L254.8,77.6 L255.4,77.6 L256.0,77.4 L256.6,77.5 L257.2,77.9 L257.8,77.4 L258.4,77.6 L259.0,77.7 L259.6,77.8 L260.2,77.4 L260.8,77.5 L261.4,77.4 L262.0,77.5 L262.6,77.5 L263.2,77.8 L263.8,77.8 L264.4,77.8 L265.0,77.3 L265.6,77.3 L266.2,77.7 L266.8,77.8 L267.4,77.5 L268.0,77.6" fill="none" stroke="#0D760F" stroke-width="1.7" stroke-linejoin="round" stroke-linecap="round"/>
<path d="M47.2,113.7 L71.3,112.2" fill="none" stroke="#073A84" stroke-width="1.9" stroke-linejoin="round" stroke-linecap="round"/>
<path d="M71.3,112.2 L71.4,111.5 L71.5,110.7 L71.7,110.0 L71.8,109.3 L71.9,108.6 L72.0,107.8 L72.2,107.2 L72.3,106.5 L72.5,105.7 L72.7,104.9 L72.9,104.1 L73.1,103.3 L73.3,102.6 L73.5,101.9 L73.8,101.2 L74.1,100.5 L74.4,99.9 L74.7,99.2 L75.1,98.5 L75.4,97.8 L75.8,97.1 L76.3,96.4 L76.7,95.7 L77.1,95.1 L77.5,94.5 L77.9,93.9 L78.3,93.2 L78.8,92.6 L79.2,92.0 L79.7,91.3 L80.1,90.7 L80.5,90.1 L80.9,89.6 L81.3,89.0 L81.8,88.4 L82.2,87.8 L82.7,87.2 L83.1,86.5 L83.6,85.9 L84.0,85.3 L84.4,84.8 L84.9,84.1 L85.3,83.5 L85.8,82.9 L86.2,82.2 L86.7,81.6 L87.2,81.0 L87.6,80.4 L88.1,79.8 L88.6,79.3 L89.1,78.8 L89.6,78.3 L90.2,77.8 L90.8,77.4 L91.4,76.9 L92.0,76.5 L92.6,76.2 L93.3,75.8 L93.9,75.5 L94.5,75.3 L95.1,75.0 L95.8,74.7 L96.6,74.4 L97.3,74.2 L98.0,74.0 L98.8,73.9 L99.5,73.9 L100.2,73.9 L100.9,74.0 L101.6,74.2 L102.4,74.4 L103.1,74.7 L103.8,75.0 L104.4,75.3 L105.0,75.6 L105.6,76.0 L106.2,76.4 L106.8,76.9 L107.4,77.4 L108.1,77.8 L108.7,78.3 L109.3,78.8 L109.8,79.2 L110.4,79.7 L110.9,80.1 L111.5,80.6 L112.1,81.1 L112.6,81.6 L113.2,82.1 L113.7,82.5 L114.3,83.0 L114.8,83.5 L115.3,83.9 L115.8,84.3 L116.4,84.8 L117.0,85.3 L117.5,85.8 L118.0,86.3 L118.6,86.7 L119.1,87.1 L119.7,87.4 L120.4,87.7 L121.1,87.9 L121.8,88.1 L122.6,88.2 L123.6,88.3 L124.0,88.3 L124.5,88.4 L125.0,88.4 L125.5,88.5 L126.1,88.5 L126.6,88.5 L127.2,88.5 L127.9,88.6 L128.5,88.6 L129.2,88.6 L129.8,88.6 L130.5,88.6 L131.3,88.6 L132.0,88.6 L132.7,88.6 L133.5,88.6 L134.3,88.6 L135.0,88.6 L135.8,88.6 L136.6,88.6 L137.5,88.6 L138.3,88.5 L139.1,88.5 L139.9,88.5 L140.8,88.5 L141.6,88.5 L142.5,88.5 L143.3,88.4 L144.2,88.4 L145.0,88.4 L145.6,88.4 L146.2,88.4 L146.8,88.4 L147.4,88.3 L148.0,88.3 L148.6,88.3 L149.2,88.3 L149.9,88.2 L150.5,88.2 L151.1,88.2 L151.8,88.2 L152.5,88.1 L153.1,88.1 L153.8,88.1 L154.5,88.0 L155.2,88.0 L155.8,88.0 L156.5,87.9 L157.2,87.9 L157.9,87.9 L158.6,87.8 L159.3,87.8 L160.1,87.7 L160.8,87.7 L161.5,87.7 L162.2,87.6 L163.0,87.6 L163.7,87.5 L164.4,87.5 L165.2,87.4 L165.9,87.4 L166.6,87.4 L167.4,87.3 L168.1,87.3 L168.9,87.2 L169.6,87.2 L170.4,87.1 L171.1,87.1 L171.8,87.0 L172.6,87.0 L173.3,87.0 L174.1,86.9 L174.8,86.9 L175.6,86.8 L176.3,86.8 L177.1,86.8 L177.8,86.7 L178.5,86.7 L179.3,86.6 L180.0,86.6 L180.8,86.6 L181.5,86.5 L182.2,86.5 L182.9,86.5 L183.7,86.4 L184.4,86.4 L185.1,86.4 L185.8,86.3 L186.5,86.3 L187.2,86.3 L187.9,86.3 L188.6,86.2 L189.3,86.2 L190.0,86.2 L190.7,86.2 L191.4,86.2 L192.2,86.1 L192.9,86.1 L193.6,86.1 L194.3,86.1 L195.0,86.1 L195.7,86.1 L196.5,86.1 L197.2,86.0 L197.9,86.0 L198.6,86.0 L199.3,86.0 L200.0,86.0 L200.7,86.0 L201.4,86.0 L202.1,86.0 L202.8,86.0 L203.5,86.0 L204.2,86.0 L205.0,86.0 L205.7,86.0 L206.4,86.0 L207.1,86.0 L207.8,85.9 L208.5,85.9 L209.2,85.9 L209.9,85.9 L210.6,85.9 L211.3,85.9 L212.0,85.9 L212.7,85.9 L213.3,85.9 L214.0,85.9 L214.7,85.9 L215.4,85.9 L216.1,85.9 L216.8,85.9 L217.5,85.9 L218.2,85.9 L218.9,85.9 L219.6,85.9 L220.3,85.9 L221.0,85.9 L221.7,85.9 L222.4,85.9 L223.1,85.9 L223.8,85.9 L224.5,85.9 L225.2,85.9 L225.8,85.9 L226.5,85.9 L227.2,85.9 L227.9,85.9 L228.6,85.9 L229.3,85.9 L230.0,85.9 L230.7,85.9 L231.4,85.9 L232.1,85.9 L232.8,85.9 L233.6,85.9 L234.3,85.9 L235.0,85.9 L235.7,85.9 L236.4,85.9 L237.1,85.8 L237.8,85.8 L238.5,85.8 L239.2,85.8 L239.9,85.8 L240.6,85.8 L241.3,85.8 L242.0,85.8 L242.7,85.8 L243.4,85.8 L244.1,85.8 L244.8,85.8 L245.6,85.8 L246.3,85.8 L247.0,85.8 L247.7,85.8 L248.4,85.8 L249.1,85.8 L249.8,85.7 L250.5,85.7 L251.2,85.7 L251.9,85.7 L252.6,85.7 L253.3,85.7 L254.0,85.7 L254.7,85.7 L255.4,85.7 L256.1,85.7 L256.8,85.7 L257.5,85.7 L258.2,85.7 L258.9,85.7 L259.6,85.7 L260.3,85.7 L261.0,85.7 L261.7,85.7 L262.4,85.6 L263.1,85.6 L263.8,85.6 L264.5,85.6 L265.2,85.6 L265.9,85.6 L266.6,85.6 L267.3,85.6 L268.0,85.6" fill="none" stroke="#073A84" stroke-width="1.9" stroke-linejoin="round" stroke-linecap="round"/>
<path d="M324.5,133.2 L351.2,133.0" fill="none" stroke="#F37C0C" stroke-width="1.7" stroke-linejoin="round" stroke-linecap="round"/>
<path d="M351.2,133.0 L351.3,132.3 L351.3,131.5 L351.4,130.8 L351.5,130.1 L351.5,129.3 L351.6,128.6 L351.7,127.9 L351.7,127.1 L351.8,126.4 L351.9,125.7 L351.9,125.0 L352.0,124.3 L352.1,123.6 L352.2,122.8 L352.3,122.1 L352.4,121.3 L352.5,120.6 L352.6,119.9 L352.7,119.2 L352.8,118.4 L353.0,117.7 L353.1,117.0 L353.2,116.2 L353.3,115.5 L353.4,114.8 L353.5,114.0 L353.6,113.3 L353.8,112.5 L353.9,111.8 L354.0,111.0 L354.1,110.3 L354.2,109.6 L354.4,108.8 L354.5,108.1 L354.6,107.4 L354.7,106.6 L354.9,105.9 L355.0,105.1 L355.2,104.4 L355.3,103.6 L355.4,102.9 L355.6,102.2 L355.8,101.5 L355.9,100.7 L356.1,100.0 L356.3,99.3 L356.5,98.5 L356.7,97.8 L356.9,97.1 L357.2,96.3 L357.4,95.6 L357.6,94.9 L357.8,94.2 L358.1,93.4 L358.3,92.7 L358.5,92.0 L358.7,91.3 L358.9,90.7 L359.1,90.0 L359.3,89.3 L359.5,88.6 L359.7,87.9 L359.9,87.3 L360.1,86.6 L360.3,85.9 L360.5,85.3 L360.8,84.5 L361.0,83.8 L361.3,83.0 L361.6,82.2 L361.9,81.5 L362.2,80.8 L362.4,80.1 L362.7,79.4 L363.0,78.6 L363.3,77.9 L363.5,77.1 L363.8,76.4 L364.1,75.7 L364.4,75.0 L364.7,74.4 L365.0,73.8 L365.3,73.2 L365.6,72.6 L365.9,71.9 L366.2,71.2 L366.5,70.6 L366.7,70.0 L367.0,69.3 L367.3,68.6 L367.5,67.9 L367.8,67.1 L368.1,66.4 L368.4,65.7 L368.7,65.0 L369.1,64.3 L369.4,63.6 L369.7,63.0 L370.1,62.3 L370.5,61.7 L370.9,61.1 L371.2,60.5 L371.6,59.9 L372.1,59.3 L372.5,58.8 L372.9,58.2 L373.3,57.6 L373.7,57.1 L374.2,56.5 L374.6,56.0 L375.1,55.4 L375.6,54.9 L376.1,54.3 L376.6,53.8 L377.1,53.3 L377.5,52.8 L378.0,52.3 L378.5,51.7 L379.0,51.1 L379.5,50.6 L379.9,50.0 L380.4,49.4 L380.9,48.9 L381.5,48.3 L382.0,47.8 L382.5,47.4 L383.1,46.9 L383.6,46.4 L384.2,45.9 L384.8,45.4 L385.4,44.9 L386.0,44.4 L386.6,44.0 L387.1,43.5 L387.7,43.1 L388.3,42.6 L389.0,42.1 L389.6,41.7 L390.2,41.3 L390.8,40.8 L391.4,40.4 L392.0,40.0 L392.6,39.6 L393.2,39.2 L393.9,38.8 L394.6,38.4 L395.2,38.0 L395.9,37.7 L396.5,37.3 L397.0,37.0 L397.5,36.7 L398.3,36.2 L399.0,35.7" fill="none" stroke="#F37C0C" stroke-width="1.7" stroke-linejoin="round" stroke-linecap="round"/>
<path d="M399.0,35.7 L399.5,36.4 L399.9,37.0 L400.5,37.7 L401.0,38.2 L401.6,38.7 L402.3,39.2 L403.0,39.7 L403.7,40.2 L404.4,40.6 L405.1,40.9 L405.7,41.3 L406.4,41.6 L407.1,41.8 L407.9,42.1 L408.6,42.3 L409.3,42.6 L410.0,42.8 L410.7,43.1 L411.4,43.3 L412.1,43.5 L412.8,43.7 L413.5,43.9 L414.2,44.1 L414.9,44.3 L415.5,44.4 L416.1,44.5 L416.8,44.7 L417.5,44.8 L418.2,44.9 L419.1,45.0 L420.0,45.2 L420.5,45.3 L420.9,45.4 L421.4,45.4 L422.0,45.5 L422.5,45.6 L423.1,45.7 L423.7,45.8 L424.3,45.9 L424.9,46.0 L425.5,46.1 L426.2,46.2 L426.9,46.3 L427.6,46.4 L428.3,46.5 L429.0,46.6 L429.7,46.7 L430.5,46.8 L431.2,46.9 L432.0,47.0 L432.7,47.1 L433.5,47.2 L434.3,47.3 L435.1,47.4 L435.9,47.5 L436.7,47.6 L437.4,47.7 L438.2,47.8 L439.0,47.9 L439.8,48.0 L440.6,48.1 L441.4,48.3 L442.2,48.4 L443.0,48.5 L443.7,48.6 L444.5,48.6 L445.3,48.7 L446.0,48.8 L446.8,48.9 L447.5,49.0 L448.2,49.1 L448.9,49.2 L449.6,49.3 L450.3,49.3 L451.0,49.4 L451.7,49.5 L452.4,49.6 L453.1,49.7 L453.8,49.7 L454.6,49.8 L455.3,49.9 L456.0,50.0 L456.7,50.1 L457.4,50.1 L458.1,50.2 L458.8,50.3 L459.5,50.4 L460.2,50.4 L460.9,50.5 L461.6,50.6 L462.4,50.6 L463.1,50.7 L463.8,50.8 L464.5,50.8 L465.2,50.9 L465.9,51.0 L466.6,51.1 L467.3,51.1 L468.1,51.2 L468.8,51.2 L469.5,51.3 L470.2,51.4 L470.9,51.4 L471.6,51.5 L472.3,51.6 L473.0,51.6 L473.7,51.7 L474.5,51.8 L475.2,51.8 L475.9,51.9 L476.6,51.9 L477.3,52.0 L478.0,52.1 L478.7,52.1 L479.4,52.2 L480.1,52.2 L480.8,52.3 L481.5,52.3 L482.2,52.4 L482.9,52.5 L483.6,52.5 L484.3,52.6 L485.0,52.6 L485.7,52.7 L486.4,52.7 L487.1,52.8 L487.8,52.8 L488.5,52.9 L489.1,52.9 L489.8,53.0 L490.5,53.0 L491.2,53.1 L491.9,53.1 L492.6,53.2 L493.3,53.2 L494.0,53.3 L494.7,53.3 L495.4,53.3 L496.1,53.4 L496.9,53.4 L497.6,53.5 L498.3,53.5 L499.0,53.6 L499.7,53.6 L500.4,53.7 L501.2,53.7 L501.9,53.7 L502.6,53.8 L503.4,53.8 L504.1,53.9 L504.9,53.9 L505.6,54.0 L506.4,54.0 L507.1,54.0 L507.7,54.1 L508.4,54.1 L509.1,54.1 L509.7,54.2 L510.4,54.2 L511.1,54.2 L511.8,54.3 L512.5,54.3 L513.2,54.3 L513.8,54.4 L514.5,54.4 L515.2,54.4 L515.9,54.5 L516.6,54.5 L517.4,54.5 L518.1,54.6 L518.8,54.6 L519.5,54.6 L520.2,54.6 L520.9,54.7 L521.6,54.7 L522.3,54.7 L523.1,54.8 L523.8,54.8 L524.5,54.8 L525.2,54.8 L526.0,54.9 L526.7,54.9 L527.4,54.9 L528.1,54.9 L528.9,55.0 L529.6,55.0 L530.3,55.0 L531.0,55.1 L531.8,55.1 L532.5,55.1 L533.2,55.1 L534.0,55.2 L534.7,55.2 L535.4,55.2 L536.1,55.2 L536.9,55.3 L537.6,55.3 L538.3,55.3 L539.0,55.3 L539.8,55.4 L540.5,55.4 L541.2,55.4 L541.9,55.5 L542.6,55.5 L543.4,55.5 L544.1,55.5 L544.8,55.6 L545.5,55.6" fill="none" stroke="#F37C0C" stroke-width="1.7" stroke-linejoin="round" stroke-linecap="round"/>
<path d="M324.5,112.5 L350.8,112.2" fill="none" stroke="#0D760F" stroke-width="1.7" stroke-linejoin="round" stroke-linecap="round"/>
<circle cx="350.6" cy="107.5" r="0.8" fill="#0D760F"/>
<circle cx="351.0" cy="103.0" r="0.8" fill="#0D760F"/>
<circle cx="351.1" cy="98.5" r="0.8" fill="#0D760F"/>
<circle cx="351.2" cy="94.0" r="0.8" fill="#0D760F"/>
<circle cx="351.3" cy="89.5" r="0.8" fill="#0D760F"/>
<circle cx="351.4" cy="85.0" r="0.8" fill="#0D760F"/>
<circle cx="351.5" cy="80.5" r="0.8" fill="#0D760F"/>
<circle cx="351.7" cy="76.5" r="0.8" fill="#0D760F"/>
<path d="M352.0,75.0 L352.2,74.3 L352.3,73.6 L352.5,72.9 L352.7,72.2 L352.8,71.5 L353.0,70.8 L353.2,70.0 L353.4,69.3 L353.5,68.6 L353.7,67.9 L353.9,67.1 L354.0,66.3 L354.2,65.6 L354.4,64.8 L354.6,64.0 L354.7,63.3 L354.9,62.5 L355.1,61.7 L355.2,61.0 L355.3,60.2 L355.5,59.5 L355.6,58.7 L355.8,58.0 L355.9,57.2 L356.1,56.5 L356.3,55.7 L356.5,55.0 L356.7,54.3 L357.0,53.6 L357.2,52.9 L357.5,52.2 L357.8,51.4 L358.1,50.7 L358.4,50.0 L358.7,49.4 L359.1,48.7 L359.4,48.0 L359.7,47.4 L360.1,46.7 L360.4,45.9 L360.8,45.2 L361.2,44.6 L361.6,43.9 L362.0,43.2 L362.4,42.6 L362.9,42.0 L363.4,41.4 L363.9,40.8 L364.5,40.3 L365.0,39.7 L365.6,39.2 L366.2,38.7 L366.7,38.2 L367.3,37.7 L367.9,37.2 L368.5,36.7 L369.1,36.2 L369.7,35.7 L370.3,35.3 L371.0,34.9 L371.6,34.5 L372.3,34.2 L373.0,33.9 L373.7,33.6 L374.5,33.4 L375.2,33.1 L375.9,32.9 L376.6,32.7 L377.3,32.5 L377.9,32.3 L378.6,32.1 L379.3,32.0 L380.0,31.8 L380.8,31.6 L381.5,31.4 L382.3,31.2 L383.1,31.1 L383.9,30.9 L384.7,30.8 L385.4,30.7 L386.1,30.7 L386.8,30.7 L387.5,30.7 L388.2,30.7 L388.9,30.8 L389.6,30.8 L390.3,30.8 L391.0,30.9 L391.8,30.9 L392.5,31.0 L393.2,31.1 L393.9,31.2 L394.6,31.3 L395.4,31.4 L396.1,31.6 L396.8,31.8 L397.5,31.9 L398.3,32.1 L399.0,32.3" fill="none" stroke="#0D760F" stroke-width="1.7" stroke-linejoin="round" stroke-linecap="round"/>
<path d="M399.0,32.3 L399.2,33.1 L399.3,33.9 L399.5,34.7 L399.7,35.4 L399.8,36.2 L400.0,37.1 L400.2,37.9 L400.5,38.7 L400.8,39.4 L401.0,40.0 L401.3,40.7 L401.7,41.3 L402.0,42.0 L402.4,42.6 L402.8,43.2 L403.3,43.8 L403.8,44.4 L404.3,45.0 L404.8,45.5 L405.4,46.0 L406.0,46.5 L406.6,46.9 L407.3,47.3 L407.9,47.7 L408.6,48.1 L409.3,48.5 L410.0,48.8 L410.6,49.1 L411.3,49.4 L412.0,49.7 L412.7,50.0 L413.5,50.3 L414.2,50.5 L414.9,50.7 L415.5,50.9 L416.2,51.1 L416.9,51.2 L417.6,51.4 L418.4,51.6 L419.2,51.7 L420.0,51.9 L420.6,52.0 L421.2,52.1 L421.8,52.2 L422.4,52.3 L423.0,52.4 L423.7,52.6 L424.4,52.7 L425.1,52.8 L425.8,52.9 L426.5,53.0 L427.2,53.1 L428.0,53.2 L428.7,53.3 L429.5,53.4 L430.3,53.5 L431.1,53.6 L431.9,53.8 L432.8,53.9 L433.6,54.0 L434.2,54.1 L434.8,54.2 L435.4,54.3 L436.0,54.3 L436.6,54.4 L437.3,54.5 L437.9,54.6 L438.6,54.7 L439.3,54.8 L439.9,54.9 L440.6,55.0 L441.3,55.1 L442.0,55.2 L442.7,55.3 L443.4,55.4 L444.2,55.5 L444.9,55.6 L445.6,55.7 L446.3,55.8 L447.1,55.9 L447.8,56.0 L448.6,56.1 L449.3,56.2 L450.1,56.3 L450.8,56.4 L451.6,56.5 L452.3,56.6 L453.1,56.7 L453.8,56.8 L454.6,56.9 L455.4,57.0 L456.1,57.0 L456.8,57.1 L457.6,57.2 L458.3,57.3 L459.1,57.4 L459.8,57.5 L460.5,57.6 L461.3,57.6 L462.0,57.7 L462.7,57.8 L463.4,57.9 L464.1,57.9 L464.8,58.0 L465.5,58.1 L466.2,58.2 L467.0,58.2 L467.7,58.3 L468.4,58.4 L469.1,58.4 L469.8,58.5 L470.5,58.5 L471.2,58.6 L471.9,58.7 L472.6,58.7 L473.3,58.8 L474.0,58.8 L474.8,58.9 L475.5,59.0 L476.2,59.0 L476.9,59.1 L477.6,59.1 L478.3,59.2 L479.0,59.2 L479.7,59.3 L480.4,59.3 L481.1,59.4 L481.9,59.4 L482.6,59.5 L483.3,59.5 L484.0,59.6 L484.7,59.6 L485.4,59.7 L486.1,59.7 L486.8,59.8 L487.5,59.8 L488.2,59.9 L489.0,59.9 L489.7,60.0 L490.4,60.0 L491.1,60.1 L491.8,60.1 L492.5,60.1 L493.2,60.2 L493.9,60.2 L494.6,60.3 L495.4,60.3 L496.1,60.4 L496.8,60.4 L497.5,60.4 L498.2,60.5 L499.0,60.5 L499.7,60.6 L500.4,60.6 L501.1,60.6 L501.8,60.7 L502.5,60.7 L503.3,60.8 L504.0,60.8 L504.7,60.8 L505.4,60.9 L506.1,60.9 L506.9,60.9 L507.6,61.0 L508.3,61.0 L509.0,61.0 L509.7,61.1 L510.4,61.1 L511.1,61.1 L511.9,61.2 L512.6,61.2 L513.3,61.2 L514.0,61.3 L514.7,61.3 L515.4,61.3 L516.1,61.4 L516.8,61.4 L517.5,61.4 L518.2,61.5 L518.8,61.5 L519.5,61.5 L520.2,61.6 L520.9,61.6 L521.6,61.6 L522.4,61.7 L523.1,61.7 L523.8,61.7 L524.5,61.8 L525.2,61.8 L526.0,61.9 L526.7,61.9 L527.4,61.9 L528.1,62.0 L528.8,62.0 L529.5,62.0 L530.2,62.1 L530.9,62.1 L531.6,62.1 L532.3,62.2 L533.0,62.2 L533.7,62.2 L534.4,62.3 L535.1,62.3 L535.8,62.3 L536.5,62.4 L537.1,62.4 L537.8,62.4 L538.5,62.5 L539.2,62.5 L539.9,62.5 L540.6,62.6 L541.3,62.6 L542.0,62.6 L542.7,62.7 L543.4,62.7 L544.1,62.7 L544.8,62.8 L545.5,62.8" fill="none" stroke="#0D760F" stroke-width="1.7" stroke-linejoin="round" stroke-linecap="round"/>
<path d="M324.5,97.6 L351.5,97.4" fill="none" stroke="#073A84" stroke-width="1.8" stroke-linejoin="round" stroke-linecap="round"/>
<path d="M351.5,97.4 L351.5,96.7 L351.6,96.0 L351.6,95.3 L351.7,94.6 L351.7,93.9 L351.8,93.2 L351.8,92.5 L351.8,91.8 L351.9,91.0 L351.9,90.3 L352.0,89.5 L352.0,88.7 L352.1,88.0 L352.1,87.2 L352.2,86.4 L352.3,85.7 L352.3,85.0 L352.4,84.2 L352.5,83.5 L352.5,82.8 L352.6,82.1 L352.7,81.4 L352.8,80.7 L352.9,80.0 L353.0,79.2 L353.2,78.5 L353.3,77.8 L353.5,77.1 L353.6,76.4 L353.8,75.7 L354.0,75.0 L354.2,74.3 L354.4,73.6 L354.6,73.0 L354.9,72.3 L355.1,71.7 L355.4,71.0 L355.6,70.4 L355.9,69.8 L356.2,69.1 L356.4,68.5 L356.7,67.8 L357.0,67.2 L357.3,66.5 L357.6,65.8 L357.9,65.2 L358.2,64.5 L358.5,63.9 L358.8,63.2 L359.2,62.6 L359.5,61.9 L359.8,61.3 L360.1,60.6 L360.5,60.0 L360.8,59.3 L361.1,58.6 L361.4,58.0 L361.7,57.3 L362.1,56.7 L362.4,56.0 L362.7,55.3 L363.0,54.7 L363.3,54.1 L363.7,53.4 L364.0,52.8 L364.4,52.2 L364.7,51.6 L365.1,51.0 L365.4,50.4 L365.8,49.8 L366.1,49.2 L366.5,48.6 L366.9,48.0 L367.3,47.4 L367.7,46.8 L368.0,46.2 L368.4,45.6 L368.8,45.0 L369.2,44.4 L369.6,43.8 L370.0,43.2 L370.4,42.6 L370.8,42.0 L371.2,41.4 L371.6,40.9 L372.1,40.2 L372.5,39.5 L373.0,38.9 L373.4,38.3 L373.9,37.7 L374.3,37.1 L374.8,36.6 L375.5,36.0 L376.2,35.4 L376.8,34.9 L377.5,34.5 L378.2,34.2 L378.9,33.9 L379.5,33.8 L380.3,33.7 L381.0,33.9 L381.4,34.5 L381.7,35.3 L381.9,36.0 L382.0,36.7 L382.2,37.5" fill="none" stroke="#073A84" stroke-width="1.8" stroke-linejoin="round" stroke-linecap="round"/>
<circle cx="382.8" cy="40.5" r="0.9" fill="#073A84"/>
<circle cx="382.8" cy="46.4" r="0.9" fill="#073A84"/>
<circle cx="383.2" cy="56.0" r="0.9" fill="#073A84"/>
<circle cx="383.6" cy="65.1" r="0.9" fill="#073A84"/>
<circle cx="383.6" cy="81.7" r="0.9" fill="#073A84"/>
<circle cx="383.8" cy="96.9" r="0.9" fill="#073A84"/>
<circle cx="384.0" cy="118.5" r="0.9" fill="#073A84"/>
<circle cx="384.1" cy="134.5" r="0.9" fill="#073A84"/>
<circle cx="384.4" cy="155.9" r="0.9" fill="#073A84"/>
<circle cx="384.6" cy="168.8" r="0.9" fill="#073A84"/>
<path d="M47.9,288.8 L73.6,288.3" fill="none" stroke="#073A84" stroke-width="1.8" stroke-linejoin="round" stroke-linecap="round"/>
<circle cx="73.9" cy="284.5" r="0.85" fill="#073A84"/>
<circle cx="74.1" cy="280.5" r="0.85" fill="#073A84"/>
<circle cx="74.3" cy="276.2" r="0.85" fill="#073A84"/>
<circle cx="74.4" cy="272.6" r="0.85" fill="#073A84"/>
<circle cx="74.5" cy="269.4" r="0.85" fill="#073A84"/>
<path d="M74.6,267.0 L74.7,266.2 L74.8,265.4 L74.9,264.5 L75.0,263.9 L75.1,263.2 L75.3,262.5 L75.4,261.8 L75.6,261.0 L75.7,260.3 L75.9,259.6 L76.1,258.8 L76.3,258.1 L76.6,257.4 L76.8,256.6 L77.1,255.9 L77.4,255.2 L77.7,254.5 L78.0,253.8 L78.3,253.1 L78.6,252.5 L78.9,251.8 L79.3,251.2 L79.7,250.6 L80.1,250.0 L80.5,249.4 L80.9,248.8 L81.3,248.3 L81.8,247.8 L82.3,247.3 L82.9,246.7 L83.5,246.3 L84.1,245.8 L84.7,245.4 L85.4,245.0 L86.2,244.6 L86.9,244.2 L87.6,243.9 L88.4,243.6 L89.1,243.3 L90.0,243.0 L90.6,242.8 L91.3,242.5 L92.1,242.3 L92.9,242.0 L93.6,241.8 L94.4,241.5 L95.1,241.3 L95.8,241.1 L96.6,240.8 L97.4,240.6 L98.1,240.4 L98.8,240.4 L99.8,240.7 L100.7,241.2 L101.1,241.8 L101.4,242.5 L101.7,243.2 L101.9,244.0 L102.1,244.9 L102.2,245.8 L102.3,246.6 L102.4,247.5 L102.5,248.3" fill="none" stroke="#073A84" stroke-width="1.8" stroke-linejoin="round" stroke-linecap="round"/>
<circle cx="102.6" cy="252.2" r="0.9" fill="#073A84"/>
<circle cx="102.7" cy="256.1" r="0.9" fill="#073A84"/>
<circle cx="102.8" cy="260.8" r="0.9" fill="#073A84"/>
<circle cx="102.9" cy="265.5" r="0.9" fill="#073A84"/>
<circle cx="102.9" cy="269.3" r="0.9" fill="#073A84"/>
<circle cx="103.0" cy="273.0" r="0.9" fill="#073A84"/>
<circle cx="103.2" cy="280.8" r="0.9" fill="#073A84"/>
<circle cx="103.6" cy="288.2" r="0.9" fill="#073A84"/>
<circle cx="104.0" cy="294.0" r="0.9" fill="#073A84"/>
<circle cx="104.4" cy="297.3" r="0.9" fill="#073A84"/>
<circle cx="104.7" cy="301.2" r="0.9" fill="#073A84"/>
<circle cx="104.9" cy="304.4" r="0.9" fill="#073A84"/>
<circle cx="105.0" cy="307.9" r="0.9" fill="#073A84"/>
<circle cx="105.2" cy="315.0" r="0.9" fill="#073A84"/>
<circle cx="105.6" cy="321.2" r="0.9" fill="#073A84"/>
<circle cx="105.9" cy="326.5" r="0.9" fill="#073A84"/>
<circle cx="106.1" cy="331.4" r="0.9" fill="#073A84"/>
<circle cx="106.5" cy="336.2" r="0.9" fill="#073A84"/>
<circle cx="106.5" cy="340.6" r="0.9" fill="#073A84"/>
<circle cx="106.8" cy="345.0" r="0.9" fill="#073A84"/>
<circle cx="107.0" cy="350.3" r="0.9" fill="#073A84"/>
<circle cx="107.3" cy="354.7" r="0.9" fill="#073A84"/>
<circle cx="107.3" cy="359.1" r="0.9" fill="#073A84"/>
<circle cx="107.7" cy="363.5" r="0.9" fill="#073A84"/>
<circle cx="107.7" cy="367.9" r="0.9" fill="#073A84"/>
<path d="M47.9,307.5 L73.9,307.2" fill="none" stroke="#F37C0C" stroke-width="1.7" stroke-linejoin="round" stroke-linecap="round"/>
<path d="M73.9,307.2 L74.0,306.5 L74.0,305.7 L74.1,305.0 L74.2,304.3 L74.3,303.5 L74.3,302.8 L74.4,302.0 L74.5,301.3 L74.5,300.6 L74.6,299.8 L74.7,299.1 L74.8,298.4 L74.8,297.6 L74.9,296.9 L75.0,296.2 L75.0,295.5 L75.1,294.7 L75.2,294.0 L75.2,293.2 L75.3,292.5 L75.4,291.8 L75.4,291.1 L75.5,290.3 L75.6,289.6 L75.6,289.0 L75.7,288.3 L75.8,287.6 L75.9,287.0 L76.0,286.2 L76.2,285.4 L76.3,284.6 L76.5,283.8 L76.6,283.1 L76.8,282.4 L76.9,281.7 L77.1,281.0 L77.3,280.2 L77.5,279.4 L77.8,278.6 L78.0,277.8 L78.3,277.0 L78.5,276.4 L78.7,275.8 L79.0,275.1 L79.2,274.5 L79.5,273.8 L79.7,273.1 L80.0,272.4 L80.3,271.7 L80.5,271.0 L80.8,270.4 L81.1,269.7 L81.4,269.0 L81.7,268.3 L82.0,267.6 L82.3,267.0 L82.7,266.3 L83.0,265.7 L83.3,265.1 L83.7,264.5 L84.2,263.8 L84.6,263.2 L85.1,262.6 L85.6,262.0 L86.2,261.5 L86.7,261.0 L87.3,260.5 L87.9,260.0 L88.6,259.5 L89.3,259.1 L90.0,258.6 L90.6,258.2 L91.2,257.9 L91.8,257.5 L92.5,257.1 L93.2,256.7 L93.8,256.3 L94.5,255.9 L95.2,255.6 L95.8,255.2 L96.5,254.8 L97.2,254.4 L97.9,254.0 L98.6,253.6 L99.3,253.3 L100.0,252.9 L100.7,252.6 L101.4,252.3 L102.1,252.0 L102.9,251.7 L103.6,251.5 L104.3,251.2 L105.1,251.0 L105.9,250.7 L106.6,250.5 L107.3,250.3 L108.1,250.1 L108.8,249.9 L109.5,249.8 L110.3,249.6 L111.0,249.5 L111.8,249.3 L112.5,249.2 L113.2,249.1 L114.0,248.9 L114.8,248.8 L115.6,248.6 L116.3,248.5 L117.1,248.4 L117.8,248.3 L118.4,248.2 L119.3,248.1 L120.1,248.0 L120.8,248.0 L121.4,248.1 L122.2,248.7 L122.8,249.6 L123.1,250.2 L123.3,250.9 L123.5,251.6 L123.8,252.3 L124.2,252.8 L124.6,253.4 L125.0,254.0 L125.6,254.5 L126.1,255.1 L126.8,255.7 L127.5,256.2 L128.0,256.5 L128.5,256.8 L129.0,257.1 L129.6,257.4 L130.2,257.8 L130.8,258.1 L131.4,258.4 L132.1,258.7 L132.7,258.9 L133.4,259.2 L134.1,259.5 L134.8,259.8 L135.6,260.1 L136.3,260.4 L137.0,260.6 L137.7,260.9 L138.4,261.1 L139.1,261.4 L139.7,261.6 L140.4,261.9 L141.1,262.1 L141.7,262.3 L142.4,262.5 L143.1,262.7 L143.8,262.9 L144.5,263.1 L145.2,263.3 L145.9,263.5 L146.6,263.7 L147.3,263.9 L148.0,264.1 L148.7,264.3 L149.4,264.5 L150.1,264.6 L150.8,264.8 L151.5,265.0 L152.2,265.2 L152.9,265.3 L153.6,265.5 L154.3,265.7 L155.0,265.8 L155.6,266.0 L156.3,266.1 L157.0,266.3 L157.6,266.4 L158.3,266.5 L158.9,266.7 L159.6,266.8 L160.2,266.9 L160.9,267.1 L161.6,267.2 L162.3,267.3 L163.0,267.4 L163.7,267.6 L164.4,267.7 L165.1,267.8 L165.8,268.0 L166.6,268.1 L167.4,268.3 L168.2,268.4 L168.8,268.5 L169.4,268.6 L170.0,268.7 L170.6,268.8 L171.2,268.9 L171.8,269.1 L172.5,269.2 L173.1,269.3 L173.8,269.4 L174.4,269.5 L175.1,269.6 L175.8,269.8 L176.5,269.9 L177.2,270.0 L177.8,270.1 L178.5,270.2 L179.3,270.4 L180.0,270.5 L180.7,270.6 L181.4,270.7 L182.1,270.8 L182.8,271.0 L183.6,271.1 L184.3,271.2 L185.0,271.3 L185.8,271.4 L186.5,271.5 L187.2,271.7 L188.0,271.8 L188.7,271.9 L189.4,272.0 L190.1,272.1 L190.9,272.2 L191.6,272.3 L192.3,272.4 L193.0,272.5 L193.8,272.6 L194.5,272.7 L195.2,272.8 L195.9,272.9 L196.6,273.0 L197.3,273.1 L198.0,273.2 L198.7,273.3 L199.4,273.4 L200.1,273.4 L200.8,273.5 L201.6,273.6 L202.3,273.7 L203.0,273.8 L203.7,273.8 L204.4,273.9 L205.1,274.0 L205.8,274.0 L206.5,274.1 L207.2,274.2 L207.9,274.2 L208.6,274.3 L209.4,274.4 L210.1,274.4 L210.8,274.5 L211.5,274.6 L212.2,274.6 L212.9,274.7 L213.6,274.7 L214.3,274.8 L215.0,274.8 L215.7,274.9 L216.5,275.0 L217.2,275.0 L217.9,275.1 L218.6,275.1 L219.3,275.2 L220.0,275.2 L220.7,275.3 L221.4,275.3 L222.1,275.4 L222.8,275.4 L223.6,275.5 L224.3,275.5 L225.0,275.6 L225.7,275.6 L226.4,275.7 L227.1,275.8 L227.8,275.8 L228.6,275.9 L229.3,275.9 L230.0,276.0 L230.8,276.0 L231.5,276.1 L232.2,276.1 L233.0,276.2 L233.7,276.2 L234.5,276.2 L235.2,276.3 L236.0,276.3 L236.8,276.4 L237.5,276.4 L238.3,276.5 L239.0,276.5 L239.8,276.6 L240.5,276.6 L241.3,276.6 L242.0,276.7 L242.7,276.7 L243.5,276.8 L244.2,276.8 L244.9,276.8 L245.7,276.9 L246.4,276.9 L247.1,277.0 L247.8,277.0 L248.5,277.0 L249.2,277.1 L249.8,277.1 L250.5,277.1 L251.2,277.2 L251.8,277.2 L252.5,277.2 L253.1,277.3 L253.7,277.3 L254.3,277.3 L254.9,277.4 L255.5,277.4 L256.3,277.4 L257.1,277.5 L257.9,277.5 L258.7,277.6 L259.4,277.6 L260.1,277.6 L260.8,277.7 L261.5,277.7 L262.2,277.7 L262.9,277.7 L263.6,277.8 L264.2,277.8 L264.9,277.8 L265.6,277.9 L266.2,277.9 L266.9,277.9 L267.6,277.9 L268.3,278.0 L269.0,278.0" fill="none" stroke="#F37C0C" stroke-width="1.8" stroke-linejoin="round" stroke-linecap="round"/>
<path d="M47.9,316.5 L73.6,316.1" fill="none" stroke="#0D760F" stroke-width="1.7" stroke-linejoin="round" stroke-linecap="round"/>
<circle cx="73.8" cy="311.3" r="0.85" fill="#0D760F"/>
<circle cx="73.9" cy="306.7" r="0.85" fill="#0D760F"/>
<path d="M74.1,304.0 L74.2,303.3 L74.3,302.6 L74.4,301.9 L74.6,301.2 L74.7,300.5 L74.8,299.8 L74.9,299.0 L75.0,298.4 L75.1,297.7 L75.2,297.0 L75.3,296.3 L75.4,295.6 L75.4,294.9 L75.5,294.2 L75.7,293.5 L75.8,292.7 L75.9,292.0 L76.0,291.3 L76.1,290.6 L76.3,289.9 L76.4,289.1 L76.5,288.4 L76.7,287.7 L76.8,286.9 L77.0,286.2 L77.2,285.5 L77.4,284.8 L77.6,284.1 L77.8,283.5 L78.1,282.8 L78.4,282.1 L78.7,281.5 L79.0,280.8 L79.4,280.2 L79.7,279.6 L80.1,279.0 L80.4,278.4 L80.8,277.9 L81.3,277.2 L81.7,276.6 L82.2,276.0 L82.7,275.4 L83.2,274.8 L83.7,274.3 L84.3,273.7 L84.9,273.2 L85.5,272.7 L86.1,272.2 L86.7,271.8 L87.3,271.4 L88.0,271.1 L88.6,270.9 L89.3,270.6 L90.0,270.3 L90.6,270.1 L91.3,269.8 L92.0,269.6 L92.7,269.3 L93.4,269.1 L94.1,268.8 L94.8,268.6 L95.5,268.4 L96.2,268.1 L96.9,267.9 L97.6,267.7 L98.3,267.4 L99.0,267.2 L99.7,267.0 L100.4,266.8 L101.1,266.6 L101.8,266.4 L102.5,266.3 L103.2,266.1 L104.0,266.0 L104.7,265.8 L105.4,265.7 L106.0,265.6 L106.7,265.4 L107.4,265.3 L108.2,265.2 L108.9,265.1 L109.6,265.0 L110.3,264.9 L111.0,264.8" fill="none" stroke="#0D760F" stroke-width="1.7" stroke-linejoin="round" stroke-linecap="round"/>
<circle cx="111.1" cy="295.7" r="0.9" fill="#0D760F"/>
<circle cx="111.2" cy="307.9" r="0.9" fill="#0D760F"/>
<circle cx="111.8" cy="315.9" r="0.9" fill="#0D760F"/>
<circle cx="111.8" cy="324.7" r="0.9" fill="#0D760F"/>
<circle cx="112.1" cy="332.6" r="0.9" fill="#0D760F"/>
<circle cx="112.6" cy="338.8" r="0.9" fill="#0D760F"/>
<circle cx="112.6" cy="344.1" r="0.9" fill="#0D760F"/>
<circle cx="113.0" cy="350.3" r="0.9" fill="#0D760F"/>
<circle cx="113.5" cy="367.0" r="0.9" fill="#0D760F"/>
<path d="M323.6,263.8 L336.9,263.5" fill="none" stroke="#073A84" stroke-width="1.9" stroke-linejoin="round" stroke-linecap="round"/>
<path d="M336.9,263.5 L337.1,262.7 L337.3,262.0 L337.5,261.2 L337.7,260.4 L337.8,259.7 L338.0,258.9 L338.2,258.2 L338.4,257.4 L338.6,256.7 L338.7,255.9 L338.9,255.2 L339.1,254.4 L339.2,253.7 L339.4,252.9 L339.6,252.2 L339.8,251.5 L340.0,250.8 L340.2,250.1 L340.5,249.4 L340.7,248.7 L341.0,248.0 L341.3,247.4 L341.5,246.7 L341.8,246.1 L342.1,245.4 L342.4,244.7 L342.7,244.1 L343.1,243.4 L343.4,242.8 L343.8,242.2 L344.2,241.6 L344.7,241.0 L345.2,240.4 L345.7,239.8 L346.2,239.3 L346.7,238.8 L347.3,238.3 L347.8,237.9 L348.4,237.5 L349.0,237.1 L349.7,236.8 L350.3,236.5 L351.0,236.3 L351.7,236.1 L352.4,235.8 L353.2,235.7 L353.9,235.5 L354.6,235.3 L355.3,235.1 L356.0,235.0 L356.7,234.9 L357.5,234.8 L358.2,234.7 L358.8,234.6 L359.5,234.5 L360.4,234.4 L361.2,234.2 L362.1,234.1 L362.9,234.0" fill="none" stroke="#073A84" stroke-width="1.9" stroke-linejoin="round" stroke-linecap="round"/>
<path d="M362.9,234.0 L363.4,234.4 L363.9,234.8 L364.3,235.3 L364.6,236.0 L365.0,236.7 L365.4,237.3 L366.0,238.0 L366.6,238.7 L367.3,239.3 L367.9,239.6 L368.6,239.9 L369.3,240.1 L370.0,240.4 L370.6,240.7 L371.1,241.0 L371.7,241.3 L372.4,241.6 L373.0,242.0 L373.7,242.3 L374.5,242.6 L375.0,242.8 L375.6,243.0 L376.2,243.2 L376.9,243.4 L377.6,243.5 L378.3,243.7 L379.0,243.9 L379.7,244.1 L380.4,244.3 L381.1,244.4 L381.9,244.6 L382.6,244.8 L383.4,244.9 L384.1,245.1 L384.8,245.3 L385.5,245.4 L386.2,245.6 L387.0,245.7 L387.7,245.8 L388.4,246.0 L389.1,246.1 L389.9,246.2 L390.6,246.4 L391.3,246.5 L392.0,246.6 L392.8,246.7 L393.5,246.9 L394.2,247.0 L394.9,247.1 L395.7,247.2 L396.4,247.3 L397.1,247.4 L397.8,247.5 L398.6,247.6 L399.3,247.7 L400.0,247.8 L400.7,247.9 L401.5,248.0 L402.2,248.1 L402.9,248.2 L403.6,248.3 L404.4,248.4 L405.1,248.4 L405.8,248.5 L406.6,248.6 L407.3,248.7 L408.0,248.8 L408.7,248.8 L409.4,248.9 L410.1,249.0 L410.8,249.1 L411.5,249.1 L412.2,249.2 L412.9,249.3 L413.7,249.3 L414.4,249.4 L415.1,249.4 L415.8,249.5 L416.5,249.6 L417.2,249.6 L417.9,249.7 L418.6,249.7 L419.3,249.8 L420.0,249.9 L420.8,249.9 L421.5,250.0 L422.2,250.1 L422.9,250.1 L423.7,250.2 L424.4,250.2 L425.1,250.3 L425.8,250.4 L426.5,250.4 L427.2,250.5 L427.9,250.5 L428.6,250.6 L429.3,250.6 L430.0,250.7 L430.8,250.8 L431.6,250.8 L432.4,250.9 L433.2,250.9 L434.0,251.0 L434.8,251.0 L435.6,251.1 L436.3,251.1 L437.0,251.2 L437.7,251.2 L438.3,251.3 L438.9,251.3 L439.8,251.4 L440.5,251.4 L441.2,251.5 L441.9,251.5" fill="none" stroke="#073A84" stroke-width="1.9" stroke-linejoin="round" stroke-linecap="round"/>
<path d="M441.9,251.5 L442.2,250.8 L442.6,250.2 L442.9,249.5 L443.3,248.9 L443.6,248.2 L443.9,247.6 L444.2,246.9 L444.5,246.2 L444.8,245.5 L445.0,244.8 L445.3,244.1 L445.6,243.4 L445.9,242.7 L446.2,242.0 L446.5,241.4 L446.8,240.7 L447.2,240.1 L447.5,239.4 L447.9,238.8 L448.3,238.3 L448.8,237.7 L449.3,237.2 L449.9,236.6 L450.4,236.2 L451.1,235.7 L451.7,235.3 L452.3,235.0 L452.9,234.7 L453.6,234.5 L454.3,234.2 L455.0,234.0 L455.7,233.8 L456.4,233.6 L457.1,233.4 L457.8,233.2 L458.5,233.1 L459.2,232.9 L459.9,232.8 L460.6,232.6 L461.3,232.4 L462.0,232.3 L462.8,232.1 L463.5,232.0 L464.2,231.8 L464.9,231.7 L465.5,231.6 L466.4,231.5 L467.1,231.4 L467.9,231.3" fill="none" stroke="#073A84" stroke-width="1.9" stroke-linejoin="round" stroke-linecap="round"/>
<path d="M467.9,231.3 L468.4,231.8 L468.9,232.2 L469.4,232.8 L469.7,233.4 L470.0,234.1 L470.3,234.9 L470.6,235.7 L470.9,236.3 L471.5,237.0 L472.2,237.6 L472.9,238.2 L473.6,238.6 L474.3,239.0 L475.1,239.3 L476.0,239.7 L476.6,239.9 L477.2,240.1 L477.8,240.3 L478.5,240.6 L479.2,240.8 L479.9,241.0 L480.7,241.2 L481.4,241.5 L482.2,241.7 L483.0,241.9 L483.7,242.1 L484.5,242.3 L485.1,242.5 L485.8,242.6 L486.5,242.8 L487.1,242.9 L487.8,243.1 L488.5,243.2 L489.2,243.3 L489.9,243.5 L490.6,243.6 L491.3,243.7 L492.0,243.9 L492.7,244.0 L493.4,244.1 L494.1,244.3 L494.8,244.4 L495.5,244.5 L496.2,244.6 L496.9,244.8 L497.6,244.9 L498.3,245.0 L499.0,245.1 L499.7,245.2 L500.4,245.3 L501.1,245.5 L501.8,245.6 L502.5,245.7 L503.2,245.8 L503.9,245.9 L504.6,246.0 L505.3,246.1 L506.0,246.2 L506.7,246.3 L507.4,246.4 L508.1,246.5 L508.8,246.6 L509.5,246.7 L510.2,246.8 L510.9,246.9 L511.6,247.0 L512.3,247.0 L513.0,247.1 L513.7,247.2 L514.4,247.3 L515.1,247.4 L515.9,247.5 L516.6,247.5 L517.3,247.6 L518.0,247.7 L518.7,247.7 L519.4,247.8 L520.1,247.8 L520.8,247.9 L521.5,247.9 L522.2,248.0 L522.9,248.0 L523.6,248.1 L524.3,248.1 L525.0,248.2 L525.7,248.2 L526.4,248.3 L527.1,248.3 L527.8,248.4 L528.6,248.4 L529.3,248.5 L530.0,248.5 L530.7,248.5 L531.4,248.6 L532.1,248.6 L532.8,248.7 L533.5,248.7 L534.3,248.8 L535.0,248.8 L535.7,248.8 L536.4,248.9 L537.1,248.9 L537.8,249.0 L538.6,249.0 L539.3,249.1 L540.0,249.1 L540.7,249.1 L541.4,249.2 L542.2,249.2 L542.9,249.3 L543.6,249.3" fill="none" stroke="#073A84" stroke-width="1.9" stroke-linejoin="round" stroke-linecap="round"/>
<path d="M323.6,311.3 L337.6,310.9" fill="none" stroke="#F37C0C" stroke-width="1.8" stroke-linejoin="round" stroke-linecap="round"/>
<path d="M337.6,310.9 L337.7,310.1 L337.7,309.4 L337.8,308.6 L337.9,307.9 L337.9,307.1 L338.0,306.4 L338.1,305.6 L338.1,304.8 L338.2,304.1 L338.3,303.3 L338.4,302.6 L338.5,301.9 L338.6,301.2 L338.7,300.5 L338.8,299.7 L338.9,299.0 L339.0,298.3 L339.1,297.6 L339.2,296.9 L339.3,296.3 L339.5,295.6 L339.6,295.0 L339.8,294.2 L340.0,293.5 L340.1,292.8 L340.3,292.2 L340.5,291.5 L340.8,290.9 L341.0,290.2 L341.3,289.5 L341.5,288.8 L341.8,288.1 L342.1,287.5 L342.4,286.8 L342.7,286.1 L343.1,285.4 L343.4,284.8 L343.8,284.2 L344.1,283.5 L344.5,282.9 L344.8,282.2 L345.2,281.6 L345.6,281.0 L346.1,280.4 L346.5,279.9 L347.0,279.3 L347.6,278.7 L348.1,278.2 L348.7,277.7 L349.3,277.2 L349.9,276.8 L350.6,276.4 L351.2,276.1 L351.9,275.8 L352.6,275.5 L353.2,275.3 L354.0,275.0 L354.7,274.8 L355.4,274.6 L356.1,274.4 L356.8,274.2 L357.4,274.0 L358.1,273.9 L358.8,273.7 L359.5,273.6 L360.2,273.4 L360.9,273.3 L361.6,273.2 L362.3,273.0" fill="none" stroke="#F37C0C" stroke-width="1.8" stroke-linejoin="round" stroke-linecap="round"/>
<path d="M362.3,273.0 L362.7,273.7 L363.0,274.4 L363.4,275.1 L363.7,275.8 L364.0,276.5 L364.2,277.2 L364.5,277.9 L364.8,278.5 L365.1,279.2 L365.5,279.9 L366.0,280.6 L366.6,281.3 L367.2,282.0 L367.7,282.5 L368.2,283.0 L368.8,283.5 L369.5,284.0 L370.1,284.5 L370.7,285.0 L371.3,285.4 L371.9,285.8 L372.4,286.1 L373.0,286.5 L373.6,286.8 L374.3,287.1 L375.0,287.4 L375.5,287.6 L376.1,287.8 L376.7,288.0 L377.4,288.2 L378.1,288.5 L378.8,288.7 L379.5,288.9 L380.3,289.1 L381.0,289.3 L381.8,289.5 L382.5,289.7 L383.3,289.9 L384.0,290.0 L384.8,290.2 L385.5,290.4 L386.2,290.6 L386.9,290.7 L387.7,290.9 L388.4,291.1 L389.1,291.2 L389.8,291.4 L390.6,291.5 L391.3,291.7 L392.0,291.8 L392.8,291.9 L393.5,292.1 L394.2,292.2 L394.9,292.3 L395.7,292.5 L396.4,292.6 L397.1,292.7 L397.8,292.8 L398.6,293.0 L399.3,293.1 L400.0,293.2 L400.7,293.3 L401.5,293.4 L402.2,293.5 L402.9,293.6 L403.6,293.7 L404.4,293.8 L405.1,293.9 L405.8,294.0 L406.6,294.1 L407.3,294.2 L408.0,294.3 L408.7,294.4 L409.4,294.5 L410.1,294.5 L410.8,294.6 L411.5,294.7 L412.2,294.8 L412.9,294.9 L413.7,294.9 L414.4,295.0 L415.1,295.1 L415.8,295.1 L416.5,295.2 L417.2,295.3 L417.9,295.4 L418.6,295.4 L419.3,295.5 L420.0,295.6 L420.8,295.6 L421.5,295.7 L422.2,295.8 L422.9,295.8 L423.6,295.9 L424.3,296.0 L425.0,296.0 L425.7,296.1 L426.4,296.1 L427.1,296.2 L427.8,296.3 L428.5,296.3 L429.3,296.4 L430.0,296.5 L430.7,296.6 L431.4,296.7 L432.1,296.7 L432.8,296.8 L433.5,296.9 L434.2,297.0 L435.0,297.1 L435.7,297.2 L436.4,297.3 L437.1,297.4 L437.9,297.5 L438.6,297.6 L439.3,297.7 L440.0,297.8 L440.8,297.9 L441.5,298.0 L442.2,298.1" fill="none" stroke="#F37C0C" stroke-width="1.8" stroke-linejoin="round" stroke-linecap="round"/>
<path d="M442.2,298.1 L442.3,297.4 L442.3,296.7 L442.4,295.9 L442.4,295.2 L442.5,294.5 L442.5,293.7 L442.6,293.0 L442.7,292.3 L442.7,291.6 L442.8,290.9 L442.8,290.2 L442.9,289.5 L443.0,288.7 L443.0,287.9 L443.1,287.1 L443.2,286.3 L443.2,285.5 L443.3,284.8 L443.4,284.0 L443.5,283.3 L443.6,282.6 L443.7,281.8 L443.9,281.1 L444.0,280.4 L444.2,279.7 L444.4,279.0 L444.6,278.4 L444.9,277.8 L445.3,277.0 L445.8,276.3 L446.4,275.7 L447.0,275.1 L447.6,274.6 L448.2,274.2 L448.9,273.8 L449.6,273.4 L450.3,273.0 L451.1,272.7 L451.7,272.5 L452.3,272.3 L453.0,272.1 L453.6,271.9 L454.3,271.7 L455.0,271.5 L455.8,271.4 L456.5,271.2 L457.2,271.1 L458.0,270.9 L458.7,270.8 L459.4,270.6 L460.1,270.5 L460.8,270.4 L461.5,270.3 L462.3,270.1 L463.0,270.0 L463.8,269.9 L464.5,269.8 L465.3,269.7 L466.1,269.6 L466.8,269.4 L467.6,269.3 L468.3,269.2" fill="none" stroke="#F37C0C" stroke-width="1.8" stroke-linejoin="round" stroke-linecap="round"/>
<path d="M468.3,269.2 L468.5,270.0 L468.6,270.7 L468.8,271.5 L469.0,272.3 L469.2,273.0 L469.5,273.7 L469.8,274.4 L470.1,275.1 L470.4,275.8 L470.8,276.5 L471.1,277.2 L471.5,277.9 L472.0,278.6 L472.5,279.2 L473.0,279.7 L473.5,280.2 L474.1,280.7 L474.6,281.1 L475.3,281.6 L475.9,282.0 L476.5,282.4 L477.2,282.7 L477.8,283.0 L478.5,283.3 L479.3,283.6 L480.1,284.0 L481.0,284.3 L481.5,284.5 L482.1,284.7 L482.7,284.9 L483.3,285.2 L484.0,285.4 L484.7,285.6 L485.4,285.9 L486.1,286.1 L486.8,286.3 L487.5,286.6 L488.3,286.8 L489.0,287.1 L489.8,287.3 L490.5,287.5 L491.3,287.8 L492.0,288.0 L492.8,288.2 L493.5,288.4 L494.2,288.6 L494.8,288.7 L495.5,288.9 L496.2,289.1 L497.0,289.2 L497.7,289.4 L498.4,289.5 L499.1,289.6 L499.8,289.7 L500.5,289.8 L501.2,289.9 L501.8,290.0 L502.5,290.1 L503.2,290.2 L503.9,290.3 L504.6,290.4 L505.3,290.5 L506.0,290.6 L506.7,290.7 L507.4,290.8 L508.1,290.9 L508.8,291.0 L509.5,291.0 L510.2,291.1 L510.9,291.2 L511.6,291.3 L512.3,291.4 L513.0,291.4 L513.7,291.5 L514.4,291.6 L515.1,291.7 L515.9,291.7 L516.6,291.8 L517.3,291.9 L518.0,292.0 L518.7,292.1 L519.4,292.1 L520.1,292.2 L520.8,292.3 L521.5,292.4 L522.2,292.5 L522.9,292.5 L523.6,292.6 L524.3,292.7 L525.0,292.8 L525.7,292.8 L526.4,292.9 L527.1,293.0 L527.8,293.1 L528.6,293.2 L529.3,293.2 L530.0,293.3 L530.7,293.4 L531.4,293.4 L532.1,293.5 L532.8,293.6 L533.5,293.6 L534.3,293.7 L535.0,293.8 L535.7,293.8 L536.4,293.9 L537.1,293.9 L537.8,294.0 L538.6,294.1 L539.3,294.1 L540.0,294.2 L540.7,294.3 L541.4,294.3 L542.2,294.4 L542.9,294.4 L543.6,294.5" fill="none" stroke="#F37C0C" stroke-width="1.8" stroke-linejoin="round" stroke-linecap="round"/>
<path d="M323.6,315.4 L337.6,314.6" fill="none" stroke="#0D760F" stroke-width="1.8" stroke-linejoin="round" stroke-linecap="round"/>
<path d="M337.6,314.6 L337.6,313.9 L337.6,313.2 L337.6,312.4 L337.6,311.7 L337.6,311.0 L337.6,310.3 L337.6,309.5 L337.6,308.8 L337.6,308.1 L337.6,307.4 L337.6,306.6 L337.7,305.8 L337.7,305.1 L337.7,304.3 L337.8,303.5 L337.8,302.7 L337.9,302.0 L337.9,301.2 L338.0,300.5 L338.1,299.7 L338.2,298.8 L338.3,298.0 L338.4,297.2 L338.5,296.4 L338.7,295.7 L338.9,295.0 L339.2,294.2 L339.6,293.5 L340.0,292.8 L340.5,292.2 L341.0,291.6 L341.5,291.1 L342.0,290.7 L342.6,290.3 L343.2,289.9 L343.8,289.5 L344.4,289.2 L345.0,288.8 L345.7,288.5 L346.4,288.1 L347.1,287.8 L347.8,287.5 L348.6,287.1 L349.3,286.8 L349.9,286.5 L350.6,286.2 L351.3,285.9 L352.0,285.7 L352.7,285.4 L353.4,285.1 L354.1,284.8 L354.7,284.6 L355.4,284.3 L356.1,284.0 L356.8,283.7 L357.5,283.4 L358.2,283.1 L358.9,282.8 L359.6,282.5 L360.2,282.2 L360.9,281.9 L361.6,281.6 L362.3,281.3" fill="none" stroke="#0D760F" stroke-width="1.8" stroke-linejoin="round" stroke-linecap="round"/>
<path d="M362.3,281.3 L362.5,282.2 L362.7,283.1 L363.0,284.0 L363.2,284.7 L363.5,285.4 L363.7,286.1 L364.0,286.8 L364.4,287.5 L364.9,288.1 L365.4,288.7 L365.9,289.2 L366.6,289.7 L367.2,290.2 L367.8,290.6 L368.5,291.0 L369.2,291.3 L369.9,291.6 L370.6,292.0 L371.3,292.3 L372.0,292.7 L372.7,293.1 L373.4,293.5 L374.1,293.8 L375.0,294.2 L375.6,294.4 L376.2,294.6 L376.8,294.8 L377.5,295.0 L378.2,295.2 L378.9,295.4 L379.6,295.6 L380.4,295.8 L381.2,296.0 L382.0,296.2 L382.7,296.3 L383.5,296.5 L384.3,296.7 L385.0,296.8 L385.7,296.9 L386.4,297.1 L387.2,297.2 L387.9,297.3 L388.6,297.4 L389.3,297.5 L390.1,297.6 L390.8,297.7 L391.6,297.8 L392.3,297.9 L393.0,298.0 L393.8,298.0 L394.5,298.1 L395.3,298.2 L396.0,298.3 L396.7,298.4 L397.4,298.5 L398.1,298.5 L398.8,298.6 L399.5,298.7 L400.2,298.7 L400.9,298.8 L401.6,298.9 L402.3,298.9 L403.0,299.0 L403.7,299.1 L404.4,299.1 L405.2,299.2 L405.9,299.3 L406.6,299.3 L407.3,299.4 L408.0,299.5 L408.7,299.5 L409.4,299.6 L410.1,299.7 L410.8,299.8 L411.5,299.8 L412.2,299.9 L413.0,300.0 L413.7,300.0 L414.4,300.1 L415.1,300.2 L415.8,300.3 L416.5,300.3 L417.2,300.4 L417.9,300.5 L418.6,300.5 L419.3,300.6 L420.0,300.7 L420.7,300.7 L421.5,300.8 L422.2,300.9 L422.8,300.9 L423.5,301.0 L424.2,301.1 L424.9,301.1 L425.6,301.2 L426.3,301.3 L427.0,301.3 L427.8,301.4 L428.5,301.5 L429.2,301.5 L430.0,301.6 L430.7,301.7 L431.3,301.7 L432.0,301.8 L432.7,301.9 L433.4,301.9 L434.1,302.0 L434.8,302.0 L435.5,302.1 L436.2,302.2 L436.9,302.3 L437.7,302.3 L438.4,302.4 L439.1,302.5 L439.8,302.5 L440.6,302.6 L441.3,302.7 L442.0,302.7 L442.7,302.8 L443.5,302.9 L444.2,302.9 L444.9,303.0" fill="none" stroke="#0D760F" stroke-width="1.8" stroke-linejoin="round" stroke-linecap="round"/>
<circle cx="444.9" cy="298.5" r="0.85" fill="#0D760F"/>
<circle cx="444.9" cy="295.0" r="0.85" fill="#0D760F"/>
<path d="M445.2,292.0 L445.3,291.3 L445.4,290.5 L445.5,289.7 L445.6,289.0 L445.7,288.2 L445.8,287.5 L445.9,286.8 L446.0,286.1 L446.2,285.3 L446.3,284.6 L446.5,283.9 L446.7,283.2 L447.0,282.6 L447.4,281.8 L447.9,281.1 L448.4,280.5 L449.1,279.9 L449.6,279.6 L450.3,279.3 L450.9,279.0 L451.6,278.8 L452.4,278.6 L453.1,278.4 L453.9,278.2 L454.6,278.0 L455.3,277.8 L456.0,277.7 L456.7,277.5 L457.5,277.4 L458.2,277.2 L459.0,277.0 L459.8,276.9 L460.6,276.7 L461.3,276.6 L462.1,276.4 L462.8,276.2 L463.5,276.1 L464.2,275.9 L464.9,275.7 L465.6,275.6 L466.2,275.4 L466.9,275.2 L467.6,275.1 L468.3,274.9 L469.0,274.7 L469.7,274.6 L470.4,274.4" fill="none" stroke="#0D760F" stroke-width="1.8" stroke-linejoin="round" stroke-linecap="round"/>
<path d="M470.4,274.4 L470.6,275.3 L470.8,276.2 L471.1,277.1 L471.3,277.8 L471.6,278.5 L471.9,279.2 L472.2,279.9 L472.5,280.6 L472.8,281.3 L473.2,282.0 L473.6,282.7 L474.0,283.4 L474.5,284.0 L475.0,284.5 L475.5,284.9 L476.1,285.3 L476.7,285.7 L477.3,286.1 L477.9,286.5 L478.5,286.8 L479.1,287.1 L479.7,287.4 L480.4,287.8 L481.0,288.1 L481.7,288.5 L482.3,288.9 L482.9,289.2 L483.7,289.6 L484.5,290.0 L485.0,290.2 L485.6,290.4 L486.2,290.6 L486.8,290.9 L487.5,291.1 L488.2,291.3 L488.9,291.6 L489.6,291.8 L490.4,292.0 L491.1,292.2 L491.9,292.4 L492.6,292.7 L493.4,292.9 L494.1,293.0 L494.8,293.2 L495.5,293.4 L496.2,293.6 L496.9,293.7 L497.6,293.9 L498.3,294.0 L499.0,294.1 L499.7,294.2 L500.4,294.4 L501.1,294.5 L501.8,294.6 L502.5,294.7 L503.2,294.8 L503.9,294.9 L504.6,295.0 L505.3,295.1 L506.0,295.2 L506.7,295.3 L507.4,295.4 L508.1,295.5 L508.8,295.6 L509.5,295.7 L510.2,295.8 L510.9,295.9 L511.6,296.0 L512.3,296.1 L513.0,296.2 L513.7,296.3 L514.4,296.4 L515.1,296.5 L515.9,296.6 L516.6,296.7 L517.3,296.8 L518.0,296.9 L518.7,297.0 L519.4,297.1 L520.1,297.1 L520.8,297.2 L521.5,297.3 L522.2,297.4 L522.9,297.5 L523.6,297.6 L524.3,297.7 L525.0,297.7 L525.7,297.8 L526.4,297.9 L527.1,298.0 L527.8,298.1 L528.6,298.1 L529.3,298.2 L530.0,298.3 L530.7,298.4 L531.4,298.5 L532.1,298.5 L532.8,298.6 L533.5,298.7 L534.3,298.8 L535.0,298.8 L535.7,298.9 L536.4,299.0 L537.1,299.0 L537.8,299.1 L538.6,299.2 L539.3,299.3 L540.0,299.3 L540.7,299.4 L541.4,299.5 L542.2,299.6 L542.9,299.6 L543.6,299.7" fill="none" stroke="#0D760F" stroke-width="1.8" stroke-linejoin="round" stroke-linecap="round"/>
</g></svg>
</body></html>
